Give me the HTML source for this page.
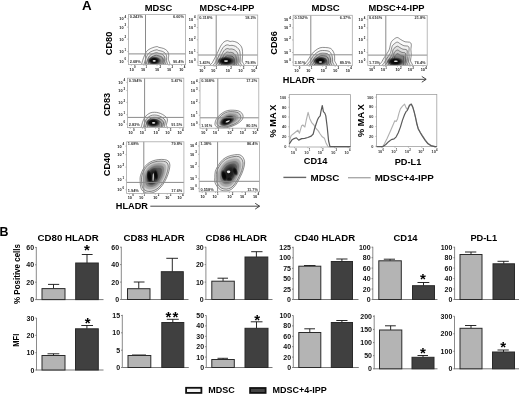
<!DOCTYPE html>
<html><head><meta charset="utf-8"><title>Figure</title>
<style>html,body{margin:0;padding:0;background:#fff;width:520px;height:395px;overflow:hidden}svg{display:block;filter:blur(0.3px)}</style>
</head><body>
<svg width="520" height="395" viewBox="0 0 520 395" font-family="'Liberation Sans', Arial, Helvetica, sans-serif">
<defs><clipPath id="c1"><rect x="128.5" y="14.6" width="57.099999999999994" height="49.99999999999999"/></clipPath><radialGradient id="g1"><stop offset="0" stop-color="#000" stop-opacity="0.35"/><stop offset="0.6" stop-color="#000" stop-opacity="0.210"/><stop offset="1" stop-color="#000" stop-opacity="0"/></radialGradient><radialGradient id="g2"><stop offset="0" stop-color="#000" stop-opacity="1"/><stop offset="0.5" stop-color="#0a0a0a" stop-opacity="0.95"/><stop offset="0.78" stop-color="#222" stop-opacity="0.55"/><stop offset="1" stop-color="#444" stop-opacity="0"/></radialGradient><clipPath id="c2"><rect x="198.0" y="15.0" width="59.69999999999999" height="50.599999999999994"/></clipPath><radialGradient id="g3"><stop offset="0" stop-color="#000" stop-opacity="0.35"/><stop offset="0.6" stop-color="#000" stop-opacity="0.210"/><stop offset="1" stop-color="#000" stop-opacity="0"/></radialGradient><radialGradient id="g4"><stop offset="0" stop-color="#000" stop-opacity="1"/><stop offset="0.5" stop-color="#0a0a0a" stop-opacity="0.95"/><stop offset="0.78" stop-color="#222" stop-opacity="0.55"/><stop offset="1" stop-color="#444" stop-opacity="0"/></radialGradient><clipPath id="c3"><rect x="127.5" y="78.2" width="56.30000000000001" height="49.39999999999999"/></clipPath><radialGradient id="g5"><stop offset="0" stop-color="#000" stop-opacity="0.35"/><stop offset="0.6" stop-color="#000" stop-opacity="0.210"/><stop offset="1" stop-color="#000" stop-opacity="0"/></radialGradient><radialGradient id="g6"><stop offset="0" stop-color="#000" stop-opacity="1"/><stop offset="0.5" stop-color="#0a0a0a" stop-opacity="0.95"/><stop offset="0.78" stop-color="#222" stop-opacity="0.55"/><stop offset="1" stop-color="#444" stop-opacity="0"/></radialGradient><clipPath id="c4"><rect x="200.0" y="78.3" width="58.80000000000001" height="49.89999999999999"/></clipPath><radialGradient id="g7"><stop offset="0" stop-color="#000" stop-opacity="0.3"/><stop offset="0.6" stop-color="#000" stop-opacity="0.180"/><stop offset="1" stop-color="#000" stop-opacity="0"/></radialGradient><radialGradient id="g8"><stop offset="0" stop-color="#000" stop-opacity="1"/><stop offset="0.5" stop-color="#0a0a0a" stop-opacity="0.95"/><stop offset="0.78" stop-color="#222" stop-opacity="0.55"/><stop offset="1" stop-color="#444" stop-opacity="0"/></radialGradient><clipPath id="c5"><rect x="126.6" y="141.8" width="57.30000000000001" height="51.599999999999994"/></clipPath><radialGradient id="g9"><stop offset="0" stop-color="#000" stop-opacity="0.3"/><stop offset="0.6" stop-color="#000" stop-opacity="0.180"/><stop offset="1" stop-color="#000" stop-opacity="0"/></radialGradient><radialGradient id="g10"><stop offset="0" stop-color="#000" stop-opacity="1"/><stop offset="0.5" stop-color="#0a0a0a" stop-opacity="0.95"/><stop offset="0.78" stop-color="#222" stop-opacity="0.55"/><stop offset="1" stop-color="#444" stop-opacity="0"/></radialGradient><radialGradient id="g11"><stop offset="0" stop-color="#000" stop-opacity="0.95"/><stop offset="0.55" stop-color="#000" stop-opacity="0.807"/><stop offset="1" stop-color="#000" stop-opacity="0"/></radialGradient><radialGradient id="g12"><stop offset="0" stop-color="#000" stop-opacity="0.85"/><stop offset="0.55" stop-color="#000" stop-opacity="0.722"/><stop offset="1" stop-color="#000" stop-opacity="0"/></radialGradient><clipPath id="c6"><rect x="199.2" y="141.8" width="60.400000000000034" height="50.0"/></clipPath><radialGradient id="g13"><stop offset="0" stop-color="#000" stop-opacity="0.3"/><stop offset="0.6" stop-color="#000" stop-opacity="0.180"/><stop offset="1" stop-color="#000" stop-opacity="0"/></radialGradient><radialGradient id="g14"><stop offset="0" stop-color="#000" stop-opacity="1"/><stop offset="0.5" stop-color="#0a0a0a" stop-opacity="0.95"/><stop offset="0.78" stop-color="#222" stop-opacity="0.55"/><stop offset="1" stop-color="#444" stop-opacity="0"/></radialGradient><radialGradient id="g15"><stop offset="0" stop-color="#000" stop-opacity="0.95"/><stop offset="0.55" stop-color="#000" stop-opacity="0.807"/><stop offset="1" stop-color="#000" stop-opacity="0"/></radialGradient><radialGradient id="g16"><stop offset="0" stop-color="#000" stop-opacity="0.85"/><stop offset="0.55" stop-color="#000" stop-opacity="0.722"/><stop offset="1" stop-color="#000" stop-opacity="0"/></radialGradient><radialGradient id="g17"><stop offset="0" stop-color="#000" stop-opacity="0.6"/><stop offset="0.55" stop-color="#000" stop-opacity="0.510"/><stop offset="1" stop-color="#000" stop-opacity="0"/></radialGradient><clipPath id="c7"><rect x="293.2" y="15.3" width="59.10000000000002" height="50.3"/></clipPath><radialGradient id="g18"><stop offset="0" stop-color="#000" stop-opacity="0.35"/><stop offset="0.6" stop-color="#000" stop-opacity="0.210"/><stop offset="1" stop-color="#000" stop-opacity="0"/></radialGradient><radialGradient id="g19"><stop offset="0" stop-color="#000" stop-opacity="1"/><stop offset="0.5" stop-color="#0a0a0a" stop-opacity="0.95"/><stop offset="0.78" stop-color="#222" stop-opacity="0.55"/><stop offset="1" stop-color="#444" stop-opacity="0"/></radialGradient><clipPath id="c8"><rect x="367.8" y="15.4" width="59.39999999999998" height="50.1"/></clipPath><radialGradient id="g20"><stop offset="0" stop-color="#000" stop-opacity="0.35"/><stop offset="0.6" stop-color="#000" stop-opacity="0.210"/><stop offset="1" stop-color="#000" stop-opacity="0"/></radialGradient><radialGradient id="g21"><stop offset="0" stop-color="#000" stop-opacity="1"/><stop offset="0.5" stop-color="#0a0a0a" stop-opacity="0.95"/><stop offset="0.78" stop-color="#222" stop-opacity="0.55"/><stop offset="1" stop-color="#444" stop-opacity="0"/></radialGradient></defs>
<rect width="520" height="395" fill="#fff"/>
<text x="82.00" y="10.20" font-size="13.4" font-weight="bold" text-anchor="start" fill="#000">A</text>
<text x="158.50" y="11.20" font-size="9.9" font-weight="bold" text-anchor="middle" fill="#000" textLength="27.6" lengthAdjust="spacingAndGlyphs">MDSC</text>
<text x="227.00" y="11.20" font-size="9.8" font-weight="bold" text-anchor="middle" fill="#000" textLength="54.8" lengthAdjust="spacingAndGlyphs">MDSC+4-IPP</text>
<text x="325.60" y="11.20" font-size="9.9" font-weight="bold" text-anchor="middle" fill="#000" textLength="28.2" lengthAdjust="spacingAndGlyphs">MDSC</text>
<text x="396.50" y="11.20" font-size="9.8" font-weight="bold" text-anchor="middle" fill="#000" textLength="56.2" lengthAdjust="spacingAndGlyphs">MDSC+4-IPP</text>
<text x="112.20" y="43.40" font-size="9.2" font-weight="bold" text-anchor="middle" fill="#000" transform="rotate(-90 112.2 43.4)">CD80</text>
<text x="110.30" y="104.60" font-size="9.2" font-weight="bold" text-anchor="middle" fill="#000" transform="rotate(-90 110.3 104.6)">CD83</text>
<text x="110.30" y="164.50" font-size="9.2" font-weight="bold" text-anchor="middle" fill="#000" transform="rotate(-90 110.3 164.5)">CD40</text>
<text x="276.90" y="42.90" font-size="9.2" font-weight="bold" text-anchor="middle" fill="#000" transform="rotate(-90 276.9 42.9)">CD86</text>
<text x="123.50" y="20.20" font-size="3.8" font-weight="bold" text-anchor="end" fill="#111">10</text>
<text x="124.50" y="17.90" font-size="2.9" font-weight="bold" text-anchor="start" fill="#111">4</text>
<text x="123.50" y="28.50" font-size="3.8" font-weight="bold" text-anchor="end" fill="#111">10</text>
<text x="124.50" y="26.20" font-size="2.9" font-weight="bold" text-anchor="start" fill="#111">3</text>
<text x="123.50" y="40.50" font-size="3.8" font-weight="bold" text-anchor="end" fill="#111">10</text>
<text x="124.50" y="38.20" font-size="2.9" font-weight="bold" text-anchor="start" fill="#111">2</text>
<text x="123.50" y="53.00" font-size="3.8" font-weight="bold" text-anchor="end" fill="#111">10</text>
<text x="124.50" y="50.70" font-size="2.9" font-weight="bold" text-anchor="start" fill="#111">1</text>
<text x="123.50" y="62.50" font-size="3.8" font-weight="bold" text-anchor="end" fill="#111">10</text>
<text x="124.50" y="60.20" font-size="2.9" font-weight="bold" text-anchor="start" fill="#111">0</text>
<text x="131.64" y="70.50" font-size="3.8" font-weight="bold" text-anchor="middle" fill="#111">10</text>
<text x="134.04" y="67.60" font-size="2.9" font-weight="bold" text-anchor="start" fill="#111">0</text>
<text x="143.06" y="70.50" font-size="3.8" font-weight="bold" text-anchor="middle" fill="#111">10</text>
<text x="145.46" y="67.60" font-size="2.9" font-weight="bold" text-anchor="start" fill="#111">1</text>
<text x="157.05" y="70.50" font-size="3.8" font-weight="bold" text-anchor="middle" fill="#111">10</text>
<text x="159.45" y="67.60" font-size="2.9" font-weight="bold" text-anchor="start" fill="#111">2</text>
<text x="169.04" y="70.50" font-size="3.8" font-weight="bold" text-anchor="middle" fill="#111">10</text>
<text x="171.44" y="67.60" font-size="2.9" font-weight="bold" text-anchor="start" fill="#111">3</text>
<text x="181.32" y="70.50" font-size="3.8" font-weight="bold" text-anchor="middle" fill="#111">10</text>
<text x="183.72" y="67.60" font-size="2.9" font-weight="bold" text-anchor="start" fill="#111">4</text>
<line x1="131.35" y1="64.60" x2="131.35" y2="65.80" stroke="#777" stroke-width="0.5"/>
<line x1="143.92" y1="64.60" x2="143.92" y2="65.80" stroke="#777" stroke-width="0.5"/>
<line x1="157.05" y1="64.60" x2="157.05" y2="65.80" stroke="#777" stroke-width="0.5"/>
<line x1="169.04" y1="64.60" x2="169.04" y2="65.80" stroke="#777" stroke-width="0.5"/>
<line x1="181.60" y1="64.60" x2="181.60" y2="65.80" stroke="#777" stroke-width="0.5"/>
<line x1="127.30" y1="18.80" x2="128.50" y2="18.80" stroke="#777" stroke-width="0.5"/>
<line x1="127.30" y1="27.10" x2="128.50" y2="27.10" stroke="#777" stroke-width="0.5"/>
<line x1="127.30" y1="39.10" x2="128.50" y2="39.10" stroke="#777" stroke-width="0.5"/>
<line x1="127.30" y1="51.60" x2="128.50" y2="51.60" stroke="#777" stroke-width="0.5"/>
<line x1="127.30" y1="61.10" x2="128.50" y2="61.10" stroke="#777" stroke-width="0.5"/>
<g clip-path="url(#c1)">
<path d="M141.00,67.00 C136.67,66.42 141.35,65.10 141.80,63.50 C142.25,61.90 142.87,59.45 143.70,57.40 C144.53,55.35 145.52,52.73 146.80,51.20 C148.08,49.67 149.73,48.97 151.40,48.20 C153.07,47.43 155.53,46.73 156.80,46.60 C158.07,46.47 157.85,47.08 159.00,47.40 C160.15,47.72 162.28,47.87 163.70,48.50 C165.12,49.13 166.67,50.12 167.50,51.20 C168.33,52.28 168.57,53.72 168.70,55.00 C168.83,56.28 168.45,56.90 168.30,58.90 C168.15,60.90 172.35,65.65 167.80,67.00 C163.25,68.35 145.33,67.58 141.00,67.00Z" fill="#000" fill-opacity="0.02" stroke="#333" stroke-width="0.55"/>
<path d="M143.40,66.92 C139.76,66.43 143.69,65.32 144.07,63.98 C144.45,62.64 144.97,60.58 145.67,58.86 C146.37,57.13 147.19,54.94 148.27,53.65 C149.35,52.36 150.74,51.77 152.14,51.13 C153.54,50.48 155.61,49.90 156.67,49.78 C157.74,49.67 157.55,50.19 158.52,50.46 C159.49,50.72 161.28,50.85 162.47,51.38 C163.66,51.91 164.96,52.74 165.66,53.65 C166.36,54.56 166.56,55.76 166.67,56.84 C166.78,57.92 166.46,58.44 166.33,60.12 C166.21,61.80 169.73,65.79 165.91,66.92 C162.09,68.05 147.04,67.41 143.40,66.92Z" fill="#000" fill-opacity="0.04" stroke="#333" stroke-width="0.55"/>
<path d="M145.50,66.85 C142.47,66.44 145.75,65.52 146.06,64.40 C146.38,63.28 146.81,61.56 147.39,60.13 C147.97,58.69 148.66,56.86 149.56,55.79 C150.46,54.72 151.61,54.23 152.78,53.69 C153.95,53.15 155.67,52.66 156.56,52.57 C157.45,52.48 157.29,52.91 158.10,53.13 C158.91,53.35 160.40,53.46 161.39,53.90 C162.38,54.34 163.47,55.03 164.05,55.79 C164.63,56.55 164.80,57.55 164.89,58.45 C164.98,59.35 164.72,59.78 164.61,61.18 C164.51,62.58 167.45,65.91 164.26,66.85 C161.08,67.79 148.53,67.26 145.50,66.85Z" fill="#000" fill-opacity="0.07" stroke="#333" stroke-width="0.55"/>
<path d="M147.45,66.78 C144.98,66.45 147.65,65.70 147.91,64.79 C148.16,63.88 148.51,62.48 148.99,61.31 C149.46,60.14 150.02,58.65 150.76,57.78 C151.49,56.91 152.43,56.51 153.38,56.07 C154.33,55.63 155.73,55.23 156.46,55.16 C157.18,55.08 157.05,55.43 157.71,55.61 C158.37,55.79 159.58,55.88 160.39,56.24 C161.20,56.60 162.08,57.16 162.56,57.78 C163.03,58.40 163.16,59.21 163.24,59.95 C163.31,60.68 163.10,61.03 163.01,62.17 C162.93,63.31 165.32,66.02 162.73,66.78 C160.13,67.55 149.92,67.12 147.45,66.78Z" fill="#000" fill-opacity="0.11" stroke="#333" stroke-width="0.55"/>
<path d="M149.40,66.72 C147.49,66.46 149.55,65.88 149.75,65.18 C149.95,64.48 150.22,63.40 150.59,62.50 C150.95,61.59 151.39,60.44 151.95,59.77 C152.52,59.09 153.24,58.79 153.98,58.45 C154.71,58.11 155.79,57.80 156.35,57.74 C156.91,57.69 156.81,57.96 157.32,58.10 C157.83,58.24 158.76,58.30 159.39,58.58 C160.01,58.86 160.69,59.29 161.06,59.77 C161.43,60.24 161.53,60.88 161.59,61.44 C161.65,62.00 161.48,62.28 161.41,63.16 C161.35,64.04 163.19,66.13 161.19,66.72 C159.19,67.31 151.31,66.98 149.40,66.72Z" fill="#000" fill-opacity="0.16" stroke="none"/>
<ellipse cx="156.5" cy="61" rx="12" ry="7" fill="url(#g1)" transform="rotate(0 156.5 61)"/>
<ellipse cx="154" cy="60.6" rx="7.0" ry="4.4" fill="url(#g2)" opacity="1" transform="rotate(0 154 60.6)"/>
<ellipse cx="154.2" cy="60.9" rx="1.6" ry="0.8" fill="#fff" fill-opacity="0.9" transform="rotate(0 154.2 60.9)"/>
</g>
<line x1="145.50" y1="14.60" x2="145.50" y2="64.60" stroke="#8a8a8a" stroke-width="1.0"/>
<line x1="128.50" y1="53.90" x2="185.60" y2="53.90" stroke="#8a8a8a" stroke-width="1.0"/>
<rect x="128.50" y="14.60" width="57.10" height="50.00" fill="none" stroke="#a8a8a8" stroke-width="0.8"/>
<text x="129.70" y="18.20" font-size="3.9" font-weight="bold" text-anchor="start" fill="#333">0.243%</text>
<text x="184.00" y="18.20" font-size="3.9" font-weight="bold" text-anchor="end" fill="#333">6.60%</text>
<text x="129.70" y="63.30" font-size="3.9" font-weight="bold" text-anchor="start" fill="#333">2.68%</text>
<text x="184.00" y="63.30" font-size="3.9" font-weight="bold" text-anchor="end" fill="#333">90.4%</text>
<text x="193.00" y="20.65" font-size="3.8" font-weight="bold" text-anchor="end" fill="#111">10</text>
<text x="194.00" y="18.35" font-size="2.9" font-weight="bold" text-anchor="start" fill="#111">4</text>
<text x="193.00" y="29.05" font-size="3.8" font-weight="bold" text-anchor="end" fill="#111">10</text>
<text x="194.00" y="26.75" font-size="2.9" font-weight="bold" text-anchor="start" fill="#111">3</text>
<text x="193.00" y="41.19" font-size="3.8" font-weight="bold" text-anchor="end" fill="#111">10</text>
<text x="194.00" y="38.89" font-size="2.9" font-weight="bold" text-anchor="start" fill="#111">2</text>
<text x="193.00" y="53.84" font-size="3.8" font-weight="bold" text-anchor="end" fill="#111">10</text>
<text x="194.00" y="51.54" font-size="2.9" font-weight="bold" text-anchor="start" fill="#111">1</text>
<text x="193.00" y="63.46" font-size="3.8" font-weight="bold" text-anchor="end" fill="#111">10</text>
<text x="194.00" y="61.16" font-size="2.9" font-weight="bold" text-anchor="start" fill="#111">0</text>
<text x="201.28" y="71.50" font-size="3.8" font-weight="bold" text-anchor="middle" fill="#111">10</text>
<text x="203.68" y="68.60" font-size="2.9" font-weight="bold" text-anchor="start" fill="#111">0</text>
<text x="213.22" y="71.50" font-size="3.8" font-weight="bold" text-anchor="middle" fill="#111">10</text>
<text x="215.62" y="68.60" font-size="2.9" font-weight="bold" text-anchor="start" fill="#111">1</text>
<text x="227.85" y="71.50" font-size="3.8" font-weight="bold" text-anchor="middle" fill="#111">10</text>
<text x="230.25" y="68.60" font-size="2.9" font-weight="bold" text-anchor="start" fill="#111">2</text>
<text x="240.39" y="71.50" font-size="3.8" font-weight="bold" text-anchor="middle" fill="#111">10</text>
<text x="242.79" y="68.60" font-size="2.9" font-weight="bold" text-anchor="start" fill="#111">3</text>
<text x="253.22" y="71.50" font-size="3.8" font-weight="bold" text-anchor="middle" fill="#111">10</text>
<text x="255.62" y="68.60" font-size="2.9" font-weight="bold" text-anchor="start" fill="#111">4</text>
<line x1="200.99" y1="65.60" x2="200.99" y2="66.80" stroke="#777" stroke-width="0.5"/>
<line x1="214.12" y1="65.60" x2="214.12" y2="66.80" stroke="#777" stroke-width="0.5"/>
<line x1="227.85" y1="65.60" x2="227.85" y2="66.80" stroke="#777" stroke-width="0.5"/>
<line x1="240.39" y1="65.60" x2="240.39" y2="66.80" stroke="#777" stroke-width="0.5"/>
<line x1="253.52" y1="65.60" x2="253.52" y2="66.80" stroke="#777" stroke-width="0.5"/>
<line x1="196.80" y1="19.25" x2="198.00" y2="19.25" stroke="#777" stroke-width="0.5"/>
<line x1="196.80" y1="27.65" x2="198.00" y2="27.65" stroke="#777" stroke-width="0.5"/>
<line x1="196.80" y1="39.79" x2="198.00" y2="39.79" stroke="#777" stroke-width="0.5"/>
<line x1="196.80" y1="52.44" x2="198.00" y2="52.44" stroke="#777" stroke-width="0.5"/>
<line x1="196.80" y1="62.06" x2="198.00" y2="62.06" stroke="#777" stroke-width="0.5"/>
<g clip-path="url(#c2)">
<path d="M211.50,67.00 C206.58,66.25 212.13,63.65 212.50,62.50 C212.87,61.35 212.93,61.58 213.70,60.10 C214.47,58.62 215.95,55.92 217.10,53.60 C218.25,51.28 219.45,48.15 220.60,46.20 C221.75,44.25 222.85,42.83 224.00,41.90 C225.15,40.97 226.48,40.67 227.50,40.60 C228.52,40.53 229.23,41.40 230.10,41.50 C230.97,41.60 231.55,41.05 232.70,41.20 C233.85,41.35 235.70,41.70 237.00,42.40 C238.30,43.10 239.63,44.33 240.50,45.40 C241.37,46.47 241.85,47.22 242.20,48.80 C242.55,50.38 242.60,52.87 242.60,54.90 C242.60,56.93 242.30,58.98 242.20,61.00 C242.10,63.02 247.12,66.00 242.00,67.00 C236.88,68.00 216.42,67.75 211.50,67.00Z" fill="#000" fill-opacity="0.02" stroke="#333" stroke-width="0.55"/>
<path d="M214.14,67.00 C210.01,66.37 214.67,64.19 214.98,63.22 C215.29,62.25 215.34,62.45 215.99,61.20 C216.63,59.96 217.88,57.69 218.84,55.74 C219.81,53.80 220.82,51.17 221.78,49.53 C222.75,47.89 223.67,46.70 224.64,45.92 C225.61,45.13 226.73,44.88 227.58,44.82 C228.43,44.77 229.04,45.50 229.76,45.58 C230.49,45.66 230.98,45.20 231.95,45.33 C232.91,45.45 234.47,45.75 235.56,46.34 C236.65,46.92 237.77,47.96 238.50,48.86 C239.23,49.75 239.63,50.38 239.93,51.71 C240.22,53.04 240.26,55.13 240.26,56.84 C240.26,58.54 240.01,60.27 239.93,61.96 C239.84,63.65 244.06,66.16 239.76,67.00 C235.46,67.84 218.27,67.63 214.14,67.00Z" fill="#000" fill-opacity="0.04" stroke="#333" stroke-width="0.55"/>
<path d="M216.45,67.00 C213.01,66.47 216.89,64.66 217.15,63.85 C217.41,63.05 217.45,63.21 217.99,62.17 C218.53,61.13 219.56,59.24 220.37,57.62 C221.18,56.00 222.01,53.81 222.82,52.44 C223.62,51.08 224.39,50.08 225.20,49.43 C226.00,48.78 226.94,48.57 227.65,48.52 C228.36,48.47 228.86,49.08 229.47,49.15 C230.08,49.22 230.48,48.84 231.29,48.94 C232.09,49.05 233.39,49.29 234.30,49.78 C235.21,50.27 236.14,51.13 236.75,51.88 C237.36,52.63 237.69,53.15 237.94,54.26 C238.19,55.37 238.22,57.11 238.22,58.53 C238.22,59.95 238.01,61.39 237.94,62.80 C237.87,64.21 241.38,66.30 237.80,67.00 C234.22,67.70 219.89,67.53 216.45,67.00Z" fill="#000" fill-opacity="0.07" stroke="#333" stroke-width="0.55"/>
<path d="M218.59,67.00 C215.79,66.57 218.96,65.09 219.16,64.44 C219.37,63.78 219.41,63.91 219.85,63.07 C220.29,62.22 221.13,60.68 221.79,59.36 C222.44,58.04 223.13,56.26 223.78,55.14 C224.44,54.03 225.06,53.23 225.72,52.69 C226.38,52.16 227.14,51.99 227.72,51.95 C228.29,51.91 228.70,52.41 229.20,52.47 C229.69,52.52 230.02,52.21 230.68,52.29 C231.33,52.38 232.39,52.58 233.13,52.98 C233.87,53.38 234.63,54.08 235.12,54.69 C235.62,55.30 235.89,55.72 236.09,56.63 C236.29,57.53 236.32,58.94 236.32,60.10 C236.32,61.26 236.15,62.43 236.09,63.58 C236.04,64.73 238.90,66.43 235.98,67.00 C233.06,67.57 221.40,67.43 218.59,67.00Z" fill="#000" fill-opacity="0.11" stroke="#333" stroke-width="0.55"/>
<path d="M220.74,67.00 C218.58,66.67 221.02,65.53 221.18,65.02 C221.34,64.51 221.37,64.62 221.71,63.96 C222.05,63.31 222.70,62.12 223.20,61.10 C223.71,60.08 224.24,58.71 224.74,57.85 C225.25,56.99 225.73,56.37 226.24,55.96 C226.75,55.55 227.33,55.41 227.78,55.38 C228.23,55.35 228.54,55.74 228.92,55.78 C229.31,55.82 229.56,55.58 230.07,55.65 C230.57,55.71 231.39,55.87 231.96,56.18 C232.53,56.48 233.12,57.03 233.50,57.50 C233.88,57.97 234.09,58.30 234.25,58.99 C234.40,59.69 234.42,60.78 234.42,61.68 C234.42,62.57 234.29,63.47 234.25,64.36 C234.20,65.25 236.41,66.56 234.16,67.00 C231.91,67.44 222.90,67.33 220.74,67.00Z" fill="#000" fill-opacity="0.16" stroke="#333" stroke-width="0.55"/>
<ellipse cx="228.5" cy="60.5" rx="15" ry="8" fill="url(#g3)" transform="rotate(0 228.5 60.5)"/>
<ellipse cx="225.8" cy="61.0" rx="9.5" ry="4.6" fill="url(#g4)" opacity="1" transform="rotate(0 225.8 61.0)"/>
<ellipse cx="226.0" cy="61.1" rx="2.2" ry="0.8" fill="#fff" fill-opacity="0.9" transform="rotate(0 226.0 61.1)"/>
</g>
<line x1="216.20" y1="15.00" x2="216.20" y2="65.60" stroke="#8a8a8a" stroke-width="1.0"/>
<line x1="198.00" y1="55.00" x2="257.70" y2="55.00" stroke="#8a8a8a" stroke-width="1.0"/>
<rect x="198.00" y="15.00" width="59.70" height="50.60" fill="none" stroke="#a8a8a8" stroke-width="0.8"/>
<text x="199.20" y="18.60" font-size="3.9" font-weight="bold" text-anchor="start" fill="#333">0.318%</text>
<text x="256.10" y="18.60" font-size="3.9" font-weight="bold" text-anchor="end" fill="#333">18.2%</text>
<text x="199.20" y="64.30" font-size="3.9" font-weight="bold" text-anchor="start" fill="#333">1.43%</text>
<text x="256.10" y="64.30" font-size="3.9" font-weight="bold" text-anchor="end" fill="#333">79.8%</text>
<text x="122.50" y="83.75" font-size="3.8" font-weight="bold" text-anchor="end" fill="#111">10</text>
<text x="123.50" y="81.45" font-size="2.9" font-weight="bold" text-anchor="start" fill="#111">4</text>
<text x="122.50" y="91.95" font-size="3.8" font-weight="bold" text-anchor="end" fill="#111">10</text>
<text x="123.50" y="89.65" font-size="2.9" font-weight="bold" text-anchor="start" fill="#111">3</text>
<text x="122.50" y="103.81" font-size="3.8" font-weight="bold" text-anchor="end" fill="#111">10</text>
<text x="123.50" y="101.51" font-size="2.9" font-weight="bold" text-anchor="start" fill="#111">2</text>
<text x="122.50" y="116.16" font-size="3.8" font-weight="bold" text-anchor="end" fill="#111">10</text>
<text x="123.50" y="113.86" font-size="2.9" font-weight="bold" text-anchor="start" fill="#111">1</text>
<text x="122.50" y="125.54" font-size="3.8" font-weight="bold" text-anchor="end" fill="#111">10</text>
<text x="123.50" y="123.24" font-size="2.9" font-weight="bold" text-anchor="start" fill="#111">0</text>
<text x="130.60" y="133.50" font-size="3.8" font-weight="bold" text-anchor="middle" fill="#111">10</text>
<text x="133.00" y="130.60" font-size="2.9" font-weight="bold" text-anchor="start" fill="#111">0</text>
<text x="141.86" y="133.50" font-size="3.8" font-weight="bold" text-anchor="middle" fill="#111">10</text>
<text x="144.26" y="130.60" font-size="2.9" font-weight="bold" text-anchor="start" fill="#111">1</text>
<text x="155.65" y="133.50" font-size="3.8" font-weight="bold" text-anchor="middle" fill="#111">10</text>
<text x="158.05" y="130.60" font-size="2.9" font-weight="bold" text-anchor="start" fill="#111">2</text>
<text x="167.47" y="133.50" font-size="3.8" font-weight="bold" text-anchor="middle" fill="#111">10</text>
<text x="169.87" y="130.60" font-size="2.9" font-weight="bold" text-anchor="start" fill="#111">3</text>
<text x="179.58" y="133.50" font-size="3.8" font-weight="bold" text-anchor="middle" fill="#111">10</text>
<text x="181.98" y="130.60" font-size="2.9" font-weight="bold" text-anchor="start" fill="#111">4</text>
<line x1="130.31" y1="127.60" x2="130.31" y2="128.80" stroke="#777" stroke-width="0.5"/>
<line x1="142.70" y1="127.60" x2="142.70" y2="128.80" stroke="#777" stroke-width="0.5"/>
<line x1="155.65" y1="127.60" x2="155.65" y2="128.80" stroke="#777" stroke-width="0.5"/>
<line x1="167.47" y1="127.60" x2="167.47" y2="128.80" stroke="#777" stroke-width="0.5"/>
<line x1="179.86" y1="127.60" x2="179.86" y2="128.80" stroke="#777" stroke-width="0.5"/>
<line x1="126.30" y1="82.35" x2="127.50" y2="82.35" stroke="#777" stroke-width="0.5"/>
<line x1="126.30" y1="90.55" x2="127.50" y2="90.55" stroke="#777" stroke-width="0.5"/>
<line x1="126.30" y1="102.41" x2="127.50" y2="102.41" stroke="#777" stroke-width="0.5"/>
<line x1="126.30" y1="114.76" x2="127.50" y2="114.76" stroke="#777" stroke-width="0.5"/>
<line x1="126.30" y1="124.14" x2="127.50" y2="124.14" stroke="#777" stroke-width="0.5"/>
<g clip-path="url(#c3)">
<path d="M140.80,129.00 C136.71,128.65 140.88,128.23 141.25,126.90 C141.62,125.57 142.28,122.78 143.00,121.00 C143.72,119.22 144.43,117.58 145.60,116.25 C146.77,114.92 148.53,113.67 150.00,113.00 C151.47,112.33 152.98,112.28 154.40,112.25 C155.82,112.22 157.15,112.44 158.50,112.80 C159.85,113.16 161.25,113.70 162.50,114.40 C163.75,115.10 165.17,116.07 166.00,117.00 C166.83,117.93 167.46,118.67 167.50,120.00 C167.54,121.33 166.53,123.50 166.25,125.00 C165.97,126.50 170.04,128.33 165.80,129.00 C161.56,129.67 144.89,129.35 140.80,129.00Z" fill="#000" fill-opacity="0.02" stroke="#333" stroke-width="0.55"/>
<path d="M142.99,129.08 C139.56,128.79 143.06,128.44 143.37,127.32 C143.68,126.20 144.23,123.85 144.84,122.36 C145.45,120.87 146.04,119.49 147.02,118.37 C148.00,117.25 149.49,116.20 150.72,115.64 C151.95,115.08 153.23,115.04 154.42,115.01 C155.61,114.98 156.73,115.17 157.86,115.47 C158.99,115.77 160.17,116.23 161.22,116.82 C162.27,117.40 163.46,118.22 164.16,119.00 C164.86,119.78 165.38,120.40 165.42,121.52 C165.45,122.64 164.61,124.46 164.37,125.72 C164.13,126.98 167.56,128.52 163.99,129.08 C160.43,129.64 146.43,129.37 142.99,129.08Z" fill="#000" fill-opacity="0.04" stroke="#333" stroke-width="0.55"/>
<path d="M144.91,129.15 C142.05,128.91 144.97,128.61 145.22,127.68 C145.48,126.75 145.94,124.79 146.45,123.55 C146.96,122.31 147.45,121.16 148.27,120.22 C149.09,119.29 150.32,118.42 151.35,117.95 C152.38,117.48 153.44,117.45 154.43,117.42 C155.42,117.40 156.36,117.56 157.30,117.81 C158.25,118.06 159.22,118.44 160.10,118.93 C160.97,119.42 161.97,120.10 162.55,120.75 C163.13,121.40 163.57,121.92 163.60,122.85 C163.63,123.78 162.92,125.30 162.72,126.35 C162.53,127.40 165.38,128.68 162.41,129.15 C159.44,129.62 147.77,129.40 144.91,129.15Z" fill="#000" fill-opacity="0.07" stroke="#333" stroke-width="0.55"/>
<path d="M146.69,129.22 C144.36,129.02 146.74,128.78 146.95,128.02 C147.16,127.26 147.53,125.67 147.94,124.66 C148.36,123.64 148.76,122.71 149.43,121.95 C150.09,121.19 151.10,120.47 151.94,120.09 C152.77,119.72 153.64,119.69 154.44,119.67 C155.25,119.65 156.01,119.78 156.78,119.98 C157.55,120.19 158.35,120.49 159.06,120.89 C159.77,121.29 160.58,121.84 161.06,122.38 C161.53,122.91 161.89,123.33 161.91,124.09 C161.93,124.85 161.36,126.08 161.20,126.94 C161.04,127.79 163.36,128.84 160.94,129.22 C158.52,129.59 149.02,129.41 146.69,129.22Z" fill="#000" fill-opacity="0.11" stroke="#333" stroke-width="0.55"/>
<path d="M148.47,129.28 C146.67,129.13 148.51,128.94 148.67,128.36 C148.83,127.77 149.12,126.54 149.44,125.76 C149.76,124.98 150.07,124.26 150.58,123.67 C151.10,123.08 151.87,122.53 152.52,122.24 C153.17,121.95 153.83,121.92 154.46,121.91 C155.08,121.90 155.67,121.99 156.26,122.15 C156.85,122.31 157.47,122.55 158.02,122.86 C158.57,123.16 159.19,123.59 159.56,124.00 C159.93,124.41 160.20,124.73 160.22,125.32 C160.24,125.91 159.79,126.86 159.67,127.52 C159.55,128.18 161.34,128.99 159.47,129.28 C157.61,129.57 150.27,129.43 148.47,129.28Z" fill="#000" fill-opacity="0.16" stroke="none"/>
<ellipse cx="155" cy="122.5" rx="12" ry="7" fill="url(#g5)" transform="rotate(0 155 122.5)"/>
<ellipse cx="153.1" cy="122.6" rx="7.8" ry="4.6" fill="url(#g6)" opacity="1" transform="rotate(0 153.1 122.6)"/>
<ellipse cx="153.6" cy="122.9" rx="1.7" ry="0.8" fill="#fff" fill-opacity="0.9" transform="rotate(0 153.6 122.9)"/>
</g>
<line x1="144.60" y1="78.20" x2="144.60" y2="127.60" stroke="#8a8a8a" stroke-width="1.0"/>
<line x1="127.50" y1="117.40" x2="183.80" y2="117.40" stroke="#8a8a8a" stroke-width="1.0"/>
<rect x="127.50" y="78.20" width="56.30" height="49.40" fill="none" stroke="#a8a8a8" stroke-width="0.8"/>
<text x="128.70" y="81.80" font-size="3.9" font-weight="bold" text-anchor="start" fill="#333">0.194%</text>
<text x="182.20" y="81.80" font-size="3.9" font-weight="bold" text-anchor="end" fill="#333">5.47%</text>
<text x="128.70" y="126.30" font-size="3.9" font-weight="bold" text-anchor="start" fill="#333">2.83%</text>
<text x="182.20" y="126.30" font-size="3.9" font-weight="bold" text-anchor="end" fill="#333">91.5%</text>
<text x="195.00" y="83.89" font-size="3.8" font-weight="bold" text-anchor="end" fill="#111">10</text>
<text x="196.00" y="81.59" font-size="2.9" font-weight="bold" text-anchor="start" fill="#111">4</text>
<text x="195.00" y="92.17" font-size="3.8" font-weight="bold" text-anchor="end" fill="#111">10</text>
<text x="196.00" y="89.87" font-size="2.9" font-weight="bold" text-anchor="start" fill="#111">3</text>
<text x="195.00" y="104.15" font-size="3.8" font-weight="bold" text-anchor="end" fill="#111">10</text>
<text x="196.00" y="101.85" font-size="2.9" font-weight="bold" text-anchor="start" fill="#111">2</text>
<text x="195.00" y="116.63" font-size="3.8" font-weight="bold" text-anchor="end" fill="#111">10</text>
<text x="196.00" y="114.33" font-size="2.9" font-weight="bold" text-anchor="start" fill="#111">1</text>
<text x="195.00" y="126.11" font-size="3.8" font-weight="bold" text-anchor="end" fill="#111">10</text>
<text x="196.00" y="123.81" font-size="2.9" font-weight="bold" text-anchor="start" fill="#111">0</text>
<text x="203.23" y="134.10" font-size="3.8" font-weight="bold" text-anchor="middle" fill="#111">10</text>
<text x="205.63" y="131.20" font-size="2.9" font-weight="bold" text-anchor="start" fill="#111">0</text>
<text x="214.99" y="134.10" font-size="3.8" font-weight="bold" text-anchor="middle" fill="#111">10</text>
<text x="217.39" y="131.20" font-size="2.9" font-weight="bold" text-anchor="start" fill="#111">1</text>
<text x="229.40" y="134.10" font-size="3.8" font-weight="bold" text-anchor="middle" fill="#111">10</text>
<text x="231.80" y="131.20" font-size="2.9" font-weight="bold" text-anchor="start" fill="#111">2</text>
<text x="241.75" y="134.10" font-size="3.8" font-weight="bold" text-anchor="middle" fill="#111">10</text>
<text x="244.15" y="131.20" font-size="2.9" font-weight="bold" text-anchor="start" fill="#111">3</text>
<text x="254.39" y="134.10" font-size="3.8" font-weight="bold" text-anchor="middle" fill="#111">10</text>
<text x="256.79" y="131.20" font-size="2.9" font-weight="bold" text-anchor="start" fill="#111">4</text>
<line x1="202.94" y1="128.20" x2="202.94" y2="129.40" stroke="#777" stroke-width="0.5"/>
<line x1="215.88" y1="128.20" x2="215.88" y2="129.40" stroke="#777" stroke-width="0.5"/>
<line x1="229.40" y1="128.20" x2="229.40" y2="129.40" stroke="#777" stroke-width="0.5"/>
<line x1="241.75" y1="128.20" x2="241.75" y2="129.40" stroke="#777" stroke-width="0.5"/>
<line x1="254.68" y1="128.20" x2="254.68" y2="129.40" stroke="#777" stroke-width="0.5"/>
<line x1="198.80" y1="82.49" x2="200.00" y2="82.49" stroke="#777" stroke-width="0.5"/>
<line x1="198.80" y1="90.77" x2="200.00" y2="90.77" stroke="#777" stroke-width="0.5"/>
<line x1="198.80" y1="102.75" x2="200.00" y2="102.75" stroke="#777" stroke-width="0.5"/>
<line x1="198.80" y1="115.23" x2="200.00" y2="115.23" stroke="#777" stroke-width="0.5"/>
<line x1="198.80" y1="124.71" x2="200.00" y2="124.71" stroke="#777" stroke-width="0.5"/>
<g clip-path="url(#c4)">
<path d="M215.00,123.20 C215.13,122.18 215.50,120.68 216.20,119.40 C216.90,118.12 218.05,116.65 219.20,115.50 C220.35,114.35 221.68,113.33 223.10,112.50 C224.52,111.67 226.03,110.88 227.70,110.50 C229.37,110.12 231.30,110.13 233.10,110.20 C234.90,110.27 237.03,110.40 238.50,110.90 C239.97,111.40 241.13,112.30 241.90,113.20 C242.67,114.10 243.03,115.27 243.10,116.30 C243.17,117.33 242.95,118.37 242.30,119.40 C241.65,120.43 240.48,121.53 239.20,122.50 C237.92,123.47 236.27,124.43 234.60,125.20 C232.93,125.97 231.12,126.60 229.20,127.10 C227.28,127.60 225.02,128.13 223.10,128.20 C221.18,128.27 218.98,127.95 217.70,127.50 C216.42,127.05 215.85,126.22 215.40,125.50 C214.95,124.78 214.87,124.22 215.00,123.20Z" fill="#000" fill-opacity="0.05" stroke="#333" stroke-width="0.55"/>
<path d="M216.95,122.72 C217.06,121.86 217.38,120.58 217.97,119.49 C218.56,118.40 219.54,117.15 220.52,116.17 C221.50,115.20 222.63,114.33 223.84,113.62 C225.04,112.92 226.33,112.25 227.75,111.92 C229.16,111.60 230.81,111.61 232.34,111.67 C233.87,111.73 235.68,111.84 236.93,112.27 C238.17,112.69 239.16,113.45 239.81,114.22 C240.47,114.98 240.78,115.98 240.84,116.86 C240.89,117.73 240.71,118.61 240.16,119.49 C239.60,120.37 238.61,121.30 237.52,122.12 C236.43,122.95 235.03,123.77 233.61,124.42 C232.19,125.07 230.65,125.61 229.02,126.03 C227.39,126.46 225.46,126.91 223.84,126.97 C222.21,127.03 220.34,126.76 219.25,126.38 C218.15,125.99 217.67,125.28 217.29,124.67 C216.91,124.07 216.84,123.58 216.95,122.72Z" fill="#000" fill-opacity="0.08" stroke="#333" stroke-width="0.55"/>
<path d="M218.90,122.24 C218.99,121.53 219.25,120.48 219.74,119.58 C220.23,118.68 221.03,117.66 221.84,116.85 C222.65,116.04 223.58,115.33 224.57,114.75 C225.56,114.17 226.62,113.62 227.79,113.35 C228.96,113.08 230.31,113.09 231.57,113.14 C232.83,113.19 234.32,113.28 235.35,113.63 C236.38,113.98 237.19,114.61 237.73,115.24 C238.27,115.87 238.52,116.69 238.57,117.41 C238.62,118.13 238.47,118.86 238.01,119.58 C237.56,120.30 236.74,121.07 235.84,121.75 C234.94,122.43 233.79,123.10 232.62,123.64 C231.45,124.18 230.18,124.62 228.84,124.97 C227.50,125.32 225.91,125.69 224.57,125.74 C223.23,125.79 221.69,125.56 220.79,125.25 C219.89,124.94 219.50,124.35 219.18,123.85 C218.87,123.35 218.81,122.95 218.90,122.24Z" fill="#000" fill-opacity="0.12" stroke="none"/>
<path d="M220.85,121.76 C220.92,121.20 221.12,120.38 221.51,119.67 C221.89,118.96 222.53,118.16 223.16,117.53 C223.79,116.89 224.53,116.33 225.31,115.88 C226.08,115.42 226.92,114.99 227.83,114.78 C228.75,114.56 229.81,114.57 230.81,114.61 C231.80,114.65 232.97,114.72 233.78,115.00 C234.58,115.27 235.22,115.77 235.65,116.26 C236.07,116.76 236.27,117.40 236.31,117.97 C236.34,118.53 236.22,119.10 235.87,119.67 C235.51,120.24 234.87,120.84 234.16,121.38 C233.45,121.91 232.55,122.44 231.63,122.86 C230.71,123.28 229.71,123.63 228.66,123.91 C227.61,124.18 226.36,124.47 225.31,124.51 C224.25,124.55 223.04,124.37 222.33,124.12 C221.63,123.88 221.32,123.42 221.07,123.03 C220.82,122.63 220.78,122.32 220.85,121.76Z" fill="#000" fill-opacity="0.15" stroke="none"/>
<path d="M222.80,121.28 C222.85,120.87 223.00,120.27 223.28,119.76 C223.56,119.25 224.02,118.66 224.48,118.20 C224.94,117.74 225.47,117.33 226.04,117.00 C226.61,116.67 227.21,116.35 227.88,116.20 C228.55,116.05 229.32,116.05 230.04,116.08 C230.76,116.11 231.61,116.16 232.20,116.36 C232.79,116.56 233.25,116.92 233.56,117.28 C233.87,117.64 234.01,118.11 234.04,118.52 C234.07,118.93 233.98,119.35 233.72,119.76 C233.46,120.17 232.99,120.61 232.48,121.00 C231.97,121.39 231.31,121.77 230.64,122.08 C229.97,122.39 229.25,122.64 228.48,122.84 C227.71,123.04 226.81,123.25 226.04,123.28 C225.27,123.31 224.39,123.18 223.88,123.00 C223.37,122.82 223.14,122.49 222.96,122.20 C222.78,121.91 222.75,121.69 222.80,121.28Z" fill="#000" fill-opacity="0.2" stroke="none"/>
<ellipse cx="229" cy="119.5" rx="14" ry="8" fill="url(#g7)" transform="rotate(-25 229 119.5)"/>
<ellipse cx="226.9" cy="120.9" rx="8.5" ry="4.8" fill="url(#g8)" opacity="1" transform="rotate(-28 226.9 120.9)"/>
<ellipse cx="227.7" cy="121.4" rx="2.3" ry="0.8" fill="#fff" fill-opacity="0.9" transform="rotate(-22 227.7 121.4)"/>
</g>
<line x1="217.80" y1="78.30" x2="217.80" y2="128.20" stroke="#8a8a8a" stroke-width="1.0"/>
<line x1="200.00" y1="117.80" x2="258.80" y2="117.80" stroke="#8a8a8a" stroke-width="1.0"/>
<rect x="200.00" y="78.30" width="58.80" height="49.90" fill="none" stroke="#a8a8a8" stroke-width="0.8"/>
<text x="201.20" y="81.90" font-size="3.9" font-weight="bold" text-anchor="start" fill="#333">0.368%</text>
<text x="257.20" y="81.90" font-size="3.9" font-weight="bold" text-anchor="end" fill="#333">17.2%</text>
<text x="201.20" y="126.90" font-size="3.9" font-weight="bold" text-anchor="start" fill="#333">1.91%</text>
<text x="257.20" y="126.90" font-size="3.9" font-weight="bold" text-anchor="end" fill="#333">80.5%</text>
<text x="121.60" y="147.53" font-size="3.8" font-weight="bold" text-anchor="end" fill="#111">10</text>
<text x="122.60" y="145.23" font-size="2.9" font-weight="bold" text-anchor="start" fill="#111">4</text>
<text x="121.60" y="156.10" font-size="3.8" font-weight="bold" text-anchor="end" fill="#111">10</text>
<text x="122.60" y="153.80" font-size="2.9" font-weight="bold" text-anchor="start" fill="#111">3</text>
<text x="121.60" y="168.48" font-size="3.8" font-weight="bold" text-anchor="end" fill="#111">10</text>
<text x="122.60" y="166.18" font-size="2.9" font-weight="bold" text-anchor="start" fill="#111">2</text>
<text x="121.60" y="181.38" font-size="3.8" font-weight="bold" text-anchor="end" fill="#111">10</text>
<text x="122.60" y="179.08" font-size="2.9" font-weight="bold" text-anchor="start" fill="#111">1</text>
<text x="121.60" y="191.19" font-size="3.8" font-weight="bold" text-anchor="end" fill="#111">10</text>
<text x="122.60" y="188.89" font-size="2.9" font-weight="bold" text-anchor="start" fill="#111">0</text>
<text x="129.75" y="199.30" font-size="3.8" font-weight="bold" text-anchor="middle" fill="#111">10</text>
<text x="132.15" y="196.40" font-size="2.9" font-weight="bold" text-anchor="start" fill="#111">0</text>
<text x="141.21" y="199.30" font-size="3.8" font-weight="bold" text-anchor="middle" fill="#111">10</text>
<text x="143.61" y="196.40" font-size="2.9" font-weight="bold" text-anchor="start" fill="#111">1</text>
<text x="155.25" y="199.30" font-size="3.8" font-weight="bold" text-anchor="middle" fill="#111">10</text>
<text x="157.65" y="196.40" font-size="2.9" font-weight="bold" text-anchor="start" fill="#111">2</text>
<text x="167.28" y="199.30" font-size="3.8" font-weight="bold" text-anchor="middle" fill="#111">10</text>
<text x="169.68" y="196.40" font-size="2.9" font-weight="bold" text-anchor="start" fill="#111">3</text>
<text x="179.60" y="199.30" font-size="3.8" font-weight="bold" text-anchor="middle" fill="#111">10</text>
<text x="182.00" y="196.40" font-size="2.9" font-weight="bold" text-anchor="start" fill="#111">4</text>
<line x1="129.47" y1="193.40" x2="129.47" y2="194.60" stroke="#777" stroke-width="0.5"/>
<line x1="142.07" y1="193.40" x2="142.07" y2="194.60" stroke="#777" stroke-width="0.5"/>
<line x1="155.25" y1="193.40" x2="155.25" y2="194.60" stroke="#777" stroke-width="0.5"/>
<line x1="167.28" y1="193.40" x2="167.28" y2="194.60" stroke="#777" stroke-width="0.5"/>
<line x1="179.89" y1="193.40" x2="179.89" y2="194.60" stroke="#777" stroke-width="0.5"/>
<line x1="125.40" y1="146.13" x2="126.60" y2="146.13" stroke="#777" stroke-width="0.5"/>
<line x1="125.40" y1="154.70" x2="126.60" y2="154.70" stroke="#777" stroke-width="0.5"/>
<line x1="125.40" y1="167.08" x2="126.60" y2="167.08" stroke="#777" stroke-width="0.5"/>
<line x1="125.40" y1="179.98" x2="126.60" y2="179.98" stroke="#777" stroke-width="0.5"/>
<line x1="125.40" y1="189.79" x2="126.60" y2="189.79" stroke="#777" stroke-width="0.5"/>
<g clip-path="url(#c5)">
<path d="M140.10,180.30 C140.02,178.12 140.10,177.15 140.60,175.30 C141.10,173.45 142.00,171.07 143.10,169.20 C144.20,167.33 145.68,165.45 147.20,164.10 C148.72,162.75 150.35,161.85 152.20,161.10 C154.05,160.35 156.27,159.85 158.30,159.60 C160.33,159.35 162.72,159.35 164.40,159.60 C166.08,159.85 167.48,160.18 168.40,161.10 C169.32,162.02 169.82,163.42 169.90,165.10 C169.98,166.78 169.48,169.00 168.90,171.20 C168.32,173.40 167.50,175.93 166.40,178.30 C165.30,180.67 163.82,183.38 162.30,185.40 C160.78,187.42 159.15,189.13 157.30,190.40 C155.45,191.67 153.23,192.65 151.20,193.00 C149.17,193.35 146.78,193.27 145.10,192.50 C143.42,191.73 141.93,190.43 141.10,188.40 C140.27,186.37 140.18,182.48 140.10,180.30Z" fill="#000" fill-opacity="0.06" stroke="#333" stroke-width="0.55"/>
<path d="M141.49,179.87 C141.42,177.91 141.49,177.03 141.94,175.37 C142.39,173.71 143.20,171.56 144.19,169.88 C145.18,168.20 146.51,166.50 147.88,165.29 C149.25,164.07 150.72,163.26 152.38,162.59 C154.04,161.92 156.04,161.47 157.87,161.24 C159.70,161.02 161.85,161.02 163.36,161.24 C164.88,161.47 166.14,161.77 166.96,162.59 C167.78,163.41 168.24,164.68 168.31,166.19 C168.38,167.70 167.94,169.70 167.41,171.68 C166.88,173.66 166.15,175.94 165.16,178.07 C164.17,180.20 162.84,182.65 161.47,184.46 C160.10,186.28 158.63,187.82 156.97,188.96 C155.31,190.10 153.31,190.99 151.48,191.30 C149.65,191.62 147.50,191.54 145.99,190.85 C144.48,190.16 143.14,188.99 142.39,187.16 C141.64,185.33 141.56,181.84 141.49,179.87Z" fill="#000" fill-opacity="0.1" stroke="#333" stroke-width="0.55"/>
<path d="M143.16,179.35 C143.09,177.65 143.16,176.90 143.55,175.45 C143.94,174.01 144.64,172.15 145.50,170.70 C146.36,169.24 147.51,167.77 148.70,166.72 C149.88,165.66 151.15,164.96 152.60,164.38 C154.04,163.79 155.77,163.40 157.35,163.21 C158.94,163.01 160.80,163.01 162.11,163.21 C163.42,163.40 164.52,163.66 165.23,164.38 C165.95,165.09 166.34,166.19 166.40,167.50 C166.47,168.81 166.08,170.54 165.62,172.26 C165.17,173.97 164.53,175.95 163.67,177.79 C162.81,179.64 161.66,181.76 160.47,183.33 C159.29,184.91 158.02,186.24 156.57,187.23 C155.13,188.22 153.40,188.99 151.82,189.26 C150.23,189.53 148.37,189.47 147.06,188.87 C145.75,188.27 144.59,187.26 143.94,185.67 C143.29,184.09 143.22,181.06 143.16,179.35Z" fill="#000" fill-opacity="0.15" stroke="none"/>
<path d="M145.10,178.75 C145.05,177.35 145.10,176.74 145.42,175.55 C145.74,174.37 146.32,172.84 147.02,171.65 C147.73,170.45 148.68,169.25 149.65,168.38 C150.62,167.52 151.66,166.94 152.85,166.46 C154.03,165.98 155.45,165.66 156.75,165.50 C158.05,165.34 159.58,165.34 160.66,165.50 C161.73,165.66 162.63,165.88 163.22,166.46 C163.80,167.05 164.12,167.95 164.18,169.02 C164.23,170.10 163.91,171.52 163.54,172.93 C163.16,174.34 162.64,175.96 161.94,177.47 C161.23,178.99 160.28,180.73 159.31,182.02 C158.34,183.31 157.30,184.41 156.11,185.22 C154.93,186.03 153.51,186.66 152.21,186.88 C150.91,187.10 149.38,187.05 148.30,186.56 C147.23,186.07 146.28,185.24 145.74,183.94 C145.21,182.63 145.16,180.15 145.10,178.75Z" fill="#000" fill-opacity="0.19" stroke="none"/>
<path d="M147.05,178.15 C147.01,177.06 147.05,176.58 147.30,175.65 C147.55,174.72 148.00,173.53 148.55,172.60 C149.10,171.67 149.84,170.73 150.60,170.05 C151.36,169.38 152.17,168.93 153.10,168.55 C154.03,168.18 155.13,167.93 156.15,167.80 C157.17,167.68 158.36,167.68 159.20,167.80 C160.04,167.93 160.74,168.09 161.20,168.55 C161.66,169.01 161.91,169.71 161.95,170.55 C161.99,171.39 161.74,172.50 161.45,173.60 C161.16,174.70 160.75,175.97 160.20,177.15 C159.65,178.33 158.91,179.69 158.15,180.70 C157.39,181.71 156.58,182.57 155.65,183.20 C154.72,183.83 153.62,184.32 152.60,184.50 C151.58,184.68 150.39,184.63 149.55,184.25 C148.71,183.87 147.97,183.22 147.55,182.20 C147.13,181.18 147.09,179.24 147.05,178.15Z" fill="#000" fill-opacity="0.23" stroke="none"/>
<ellipse cx="154" cy="175" rx="16" ry="11" fill="url(#g9)" transform="rotate(-60 154 175)"/>
<ellipse cx="152.5" cy="176.5" rx="10.0" ry="6.5" fill="url(#g10)" opacity="0.7" transform="rotate(-75 152.5 176.5)"/>
<ellipse cx="149.2" cy="176.2" rx="2.6" ry="6.8" fill="url(#g11)" transform="rotate(-8 149.2 176.2)"/>
<ellipse cx="156.0" cy="175.0" rx="2.0" ry="5.5" fill="url(#g12)" transform="rotate(-8 156.0 175.0)"/>
<ellipse cx="153.2" cy="177.3" rx="4.0" ry="0.6" fill="#fff" fill-opacity="0.9" transform="rotate(-88 153.2 177.3)"/>
</g>
<line x1="143.80" y1="141.80" x2="143.80" y2="193.40" stroke="#8a8a8a" stroke-width="1.0"/>
<line x1="126.60" y1="182.40" x2="183.90" y2="182.40" stroke="#8a8a8a" stroke-width="1.0"/>
<rect x="126.60" y="141.80" width="57.30" height="51.60" fill="none" stroke="#a8a8a8" stroke-width="0.8"/>
<text x="127.80" y="145.40" font-size="3.9" font-weight="bold" text-anchor="start" fill="#333">1.68%</text>
<text x="182.30" y="145.40" font-size="3.9" font-weight="bold" text-anchor="end" fill="#333">79.8%</text>
<text x="127.80" y="192.10" font-size="3.9" font-weight="bold" text-anchor="start" fill="#333">1.94%</text>
<text x="182.30" y="192.10" font-size="3.9" font-weight="bold" text-anchor="end" fill="#333">17.6%</text>
<text x="194.20" y="147.40" font-size="3.8" font-weight="bold" text-anchor="end" fill="#111">10</text>
<text x="195.20" y="145.10" font-size="2.9" font-weight="bold" text-anchor="start" fill="#111">4</text>
<text x="194.20" y="155.70" font-size="3.8" font-weight="bold" text-anchor="end" fill="#111">10</text>
<text x="195.20" y="153.40" font-size="2.9" font-weight="bold" text-anchor="start" fill="#111">3</text>
<text x="194.20" y="167.70" font-size="3.8" font-weight="bold" text-anchor="end" fill="#111">10</text>
<text x="195.20" y="165.40" font-size="2.9" font-weight="bold" text-anchor="start" fill="#111">2</text>
<text x="194.20" y="180.20" font-size="3.8" font-weight="bold" text-anchor="end" fill="#111">10</text>
<text x="195.20" y="177.90" font-size="2.9" font-weight="bold" text-anchor="start" fill="#111">1</text>
<text x="194.20" y="189.70" font-size="3.8" font-weight="bold" text-anchor="end" fill="#111">10</text>
<text x="195.20" y="187.40" font-size="2.9" font-weight="bold" text-anchor="start" fill="#111">0</text>
<text x="202.52" y="197.70" font-size="3.8" font-weight="bold" text-anchor="middle" fill="#111">10</text>
<text x="204.92" y="194.80" font-size="2.9" font-weight="bold" text-anchor="start" fill="#111">0</text>
<text x="214.60" y="197.70" font-size="3.8" font-weight="bold" text-anchor="middle" fill="#111">10</text>
<text x="217.00" y="194.80" font-size="2.9" font-weight="bold" text-anchor="start" fill="#111">1</text>
<text x="229.40" y="197.70" font-size="3.8" font-weight="bold" text-anchor="middle" fill="#111">10</text>
<text x="231.80" y="194.80" font-size="2.9" font-weight="bold" text-anchor="start" fill="#111">2</text>
<text x="242.08" y="197.70" font-size="3.8" font-weight="bold" text-anchor="middle" fill="#111">10</text>
<text x="244.48" y="194.80" font-size="2.9" font-weight="bold" text-anchor="start" fill="#111">3</text>
<text x="255.07" y="197.70" font-size="3.8" font-weight="bold" text-anchor="middle" fill="#111">10</text>
<text x="257.47" y="194.80" font-size="2.9" font-weight="bold" text-anchor="start" fill="#111">4</text>
<line x1="202.22" y1="191.80" x2="202.22" y2="193.00" stroke="#777" stroke-width="0.5"/>
<line x1="215.51" y1="191.80" x2="215.51" y2="193.00" stroke="#777" stroke-width="0.5"/>
<line x1="229.40" y1="191.80" x2="229.40" y2="193.00" stroke="#777" stroke-width="0.5"/>
<line x1="242.08" y1="191.80" x2="242.08" y2="193.00" stroke="#777" stroke-width="0.5"/>
<line x1="255.37" y1="191.80" x2="255.37" y2="193.00" stroke="#777" stroke-width="0.5"/>
<line x1="198.00" y1="146.00" x2="199.20" y2="146.00" stroke="#777" stroke-width="0.5"/>
<line x1="198.00" y1="154.30" x2="199.20" y2="154.30" stroke="#777" stroke-width="0.5"/>
<line x1="198.00" y1="166.30" x2="199.20" y2="166.30" stroke="#777" stroke-width="0.5"/>
<line x1="198.00" y1="178.80" x2="199.20" y2="178.80" stroke="#777" stroke-width="0.5"/>
<line x1="198.00" y1="188.30" x2="199.20" y2="188.30" stroke="#777" stroke-width="0.5"/>
<g clip-path="url(#c6)">
<path d="M214.80,177.70 C214.88,175.93 214.68,173.43 215.30,171.30 C215.92,169.17 217.25,166.85 218.50,164.90 C219.75,162.95 221.20,161.02 222.80,159.60 C224.40,158.18 226.15,157.20 228.10,156.40 C230.05,155.60 232.55,155.07 234.50,154.80 C236.45,154.53 238.38,154.37 239.80,154.80 C241.22,155.23 242.20,156.25 243.00,157.40 C243.80,158.55 244.43,160.10 244.60,161.70 C244.77,163.30 244.45,165.05 244.00,167.00 C243.55,168.95 242.78,171.27 241.90,173.40 C241.02,175.53 239.77,177.85 238.70,179.80 C237.63,181.75 236.73,183.50 235.50,185.10 C234.27,186.70 232.88,188.42 231.30,189.40 C229.72,190.38 227.78,190.92 226.00,191.00 C224.22,191.08 222.12,190.70 220.60,189.90 C219.08,189.10 217.87,187.53 216.90,186.20 C215.93,184.87 215.15,183.32 214.80,181.90 C214.45,180.48 214.72,179.47 214.80,177.70Z" fill="#000" fill-opacity="0.06" stroke="#333" stroke-width="0.55"/>
<path d="M216.27,177.18 C216.34,175.59 216.16,173.34 216.72,171.42 C217.28,169.50 218.47,167.41 219.60,165.66 C220.72,163.91 222.03,162.16 223.47,160.89 C224.91,159.61 226.49,158.73 228.24,158.01 C230.00,157.29 232.25,156.81 234.00,156.57 C235.75,156.33 237.50,156.18 238.77,156.57 C240.05,156.96 240.93,157.88 241.65,158.91 C242.37,159.94 242.94,161.34 243.09,162.78 C243.24,164.22 242.96,165.80 242.55,167.55 C242.15,169.31 241.45,171.39 240.66,173.31 C239.87,175.23 238.74,177.32 237.78,179.07 C236.82,180.83 236.01,182.40 234.90,183.84 C233.79,185.28 232.55,186.83 231.12,187.71 C229.69,188.59 227.95,189.08 226.35,189.15 C224.75,189.22 222.86,188.88 221.49,188.16 C220.12,187.44 219.03,186.03 218.16,184.83 C217.29,183.63 216.59,182.24 216.27,180.96 C215.96,179.69 216.20,178.77 216.27,177.18Z" fill="#000" fill-opacity="0.1" stroke="#333" stroke-width="0.55"/>
<path d="M218.03,176.56 C218.10,175.18 217.94,173.23 218.42,171.56 C218.91,169.90 219.94,168.09 220.92,166.57 C221.89,165.05 223.03,163.54 224.27,162.44 C225.52,161.33 226.89,160.57 228.41,159.94 C229.93,159.32 231.88,158.90 233.40,158.69 C234.92,158.49 236.43,158.36 237.53,158.69 C238.64,159.03 239.41,159.83 240.03,160.72 C240.65,161.62 241.15,162.83 241.28,164.08 C241.41,165.32 241.16,166.69 240.81,168.21 C240.46,169.73 239.86,171.54 239.17,173.20 C238.48,174.87 237.51,176.67 236.68,178.19 C235.84,179.72 235.14,181.08 234.18,182.33 C233.22,183.58 232.14,184.92 230.90,185.68 C229.67,186.45 228.16,186.87 226.77,186.93 C225.38,187.00 223.74,186.70 222.56,186.07 C221.38,185.45 220.43,184.23 219.67,183.19 C218.92,182.15 218.31,180.94 218.03,179.83 C217.76,178.73 217.97,177.93 218.03,176.56Z" fill="#000" fill-opacity="0.15" stroke="none"/>
<path d="M220.09,175.83 C220.15,174.70 220.02,173.10 220.41,171.73 C220.81,170.37 221.66,168.88 222.46,167.64 C223.26,166.39 224.19,165.15 225.21,164.24 C226.24,163.34 227.36,162.71 228.60,162.20 C229.85,161.68 231.45,161.34 232.70,161.17 C233.95,161.00 235.19,160.89 236.09,161.17 C237.00,161.45 237.63,162.10 238.14,162.84 C238.65,163.57 239.06,164.56 239.16,165.59 C239.27,166.61 239.07,167.73 238.78,168.98 C238.49,170.23 238.00,171.71 237.44,173.08 C236.87,174.44 236.07,175.92 235.39,177.17 C234.71,178.42 234.13,179.54 233.34,180.56 C232.55,181.59 231.67,182.69 230.65,183.32 C229.64,183.95 228.40,184.29 227.26,184.34 C226.12,184.39 224.77,184.15 223.80,183.64 C222.83,183.12 222.05,182.12 221.44,181.27 C220.82,180.41 220.32,179.42 220.09,178.52 C219.87,177.61 220.04,176.96 220.09,175.83Z" fill="#000" fill-opacity="0.19" stroke="none"/>
<path d="M222.15,175.10 C222.19,174.22 222.09,172.97 222.40,171.90 C222.71,170.83 223.38,169.67 224.00,168.70 C224.62,167.72 225.35,166.76 226.15,166.05 C226.95,165.34 227.83,164.85 228.80,164.45 C229.78,164.05 231.03,163.78 232.00,163.65 C232.97,163.52 233.94,163.43 234.65,163.65 C235.36,163.87 235.85,164.38 236.25,164.95 C236.65,165.52 236.97,166.30 237.05,167.10 C237.13,167.90 236.97,168.78 236.75,169.75 C236.53,170.72 236.14,171.88 235.70,172.95 C235.26,174.02 234.63,175.18 234.10,176.15 C233.57,177.12 233.12,178.00 232.50,178.80 C231.88,179.60 231.19,180.46 230.40,180.95 C229.61,181.44 228.64,181.71 227.75,181.75 C226.86,181.79 225.81,181.60 225.05,181.20 C224.29,180.80 223.68,180.02 223.20,179.35 C222.72,178.68 222.32,177.91 222.15,177.20 C221.98,176.49 222.11,175.98 222.15,175.10Z" fill="#000" fill-opacity="0.23" stroke="none"/>
<ellipse cx="229.5" cy="172.5" rx="17" ry="11" fill="url(#g13)" transform="rotate(-60 229.5 172.5)"/>
<ellipse cx="229.0" cy="173.5" rx="11.0" ry="7.0" fill="url(#g14)" opacity="0.7" transform="rotate(-62 229.0 173.5)"/>
<ellipse cx="223.8" cy="175.5" rx="2.8" ry="6.0" fill="url(#g15)" transform="rotate(-15 223.8 175.5)"/>
<ellipse cx="235.3" cy="171.5" rx="2.4" ry="4.8" fill="url(#g16)" transform="rotate(-20 235.3 171.5)"/>
<ellipse cx="229.5" cy="179.5" rx="3.0" ry="2.6" fill="url(#g17)" transform="rotate(0 229.5 179.5)"/>
<ellipse cx="228.6" cy="171.8" rx="1.7" ry="1.4" fill="#fff" fill-opacity="0.9" transform="rotate(0 228.6 171.8)"/>
</g>
<line x1="217.60" y1="141.80" x2="217.60" y2="191.80" stroke="#8a8a8a" stroke-width="1.0"/>
<line x1="199.20" y1="181.30" x2="259.60" y2="181.30" stroke="#8a8a8a" stroke-width="1.0"/>
<rect x="199.20" y="141.80" width="60.40" height="50.00" fill="none" stroke="#a8a8a8" stroke-width="0.8"/>
<text x="200.40" y="145.40" font-size="3.9" font-weight="bold" text-anchor="start" fill="#333">1.38%</text>
<text x="258.00" y="145.40" font-size="3.9" font-weight="bold" text-anchor="end" fill="#333">86.4%</text>
<text x="200.40" y="190.50" font-size="3.9" font-weight="bold" text-anchor="start" fill="#333">0.558%</text>
<text x="258.00" y="190.50" font-size="3.9" font-weight="bold" text-anchor="end" fill="#333">11.7%</text>
<text x="288.20" y="20.93" font-size="3.8" font-weight="bold" text-anchor="end" fill="#111">10</text>
<text x="289.20" y="18.63" font-size="2.9" font-weight="bold" text-anchor="start" fill="#111">4</text>
<text x="288.20" y="29.28" font-size="3.8" font-weight="bold" text-anchor="end" fill="#111">10</text>
<text x="289.20" y="26.98" font-size="2.9" font-weight="bold" text-anchor="start" fill="#111">3</text>
<text x="288.20" y="41.35" font-size="3.8" font-weight="bold" text-anchor="end" fill="#111">10</text>
<text x="289.20" y="39.05" font-size="2.9" font-weight="bold" text-anchor="start" fill="#111">2</text>
<text x="288.20" y="53.92" font-size="3.8" font-weight="bold" text-anchor="end" fill="#111">10</text>
<text x="289.20" y="51.62" font-size="2.9" font-weight="bold" text-anchor="start" fill="#111">1</text>
<text x="288.20" y="63.48" font-size="3.8" font-weight="bold" text-anchor="end" fill="#111">10</text>
<text x="289.20" y="61.18" font-size="2.9" font-weight="bold" text-anchor="start" fill="#111">0</text>
<text x="296.45" y="71.50" font-size="3.8" font-weight="bold" text-anchor="middle" fill="#111">10</text>
<text x="298.85" y="68.60" font-size="2.9" font-weight="bold" text-anchor="start" fill="#111">0</text>
<text x="308.27" y="71.50" font-size="3.8" font-weight="bold" text-anchor="middle" fill="#111">10</text>
<text x="310.67" y="68.60" font-size="2.9" font-weight="bold" text-anchor="start" fill="#111">1</text>
<text x="322.75" y="71.50" font-size="3.8" font-weight="bold" text-anchor="middle" fill="#111">10</text>
<text x="325.15" y="68.60" font-size="2.9" font-weight="bold" text-anchor="start" fill="#111">2</text>
<text x="335.16" y="71.50" font-size="3.8" font-weight="bold" text-anchor="middle" fill="#111">10</text>
<text x="337.56" y="68.60" font-size="2.9" font-weight="bold" text-anchor="start" fill="#111">3</text>
<text x="347.87" y="71.50" font-size="3.8" font-weight="bold" text-anchor="middle" fill="#111">10</text>
<text x="350.27" y="68.60" font-size="2.9" font-weight="bold" text-anchor="start" fill="#111">4</text>
<line x1="296.15" y1="65.60" x2="296.15" y2="66.80" stroke="#777" stroke-width="0.5"/>
<line x1="309.16" y1="65.60" x2="309.16" y2="66.80" stroke="#777" stroke-width="0.5"/>
<line x1="322.75" y1="65.60" x2="322.75" y2="66.80" stroke="#777" stroke-width="0.5"/>
<line x1="335.16" y1="65.60" x2="335.16" y2="66.80" stroke="#777" stroke-width="0.5"/>
<line x1="348.16" y1="65.60" x2="348.16" y2="66.80" stroke="#777" stroke-width="0.5"/>
<line x1="292.00" y1="19.53" x2="293.20" y2="19.53" stroke="#777" stroke-width="0.5"/>
<line x1="292.00" y1="27.88" x2="293.20" y2="27.88" stroke="#777" stroke-width="0.5"/>
<line x1="292.00" y1="39.95" x2="293.20" y2="39.95" stroke="#777" stroke-width="0.5"/>
<line x1="292.00" y1="52.52" x2="293.20" y2="52.52" stroke="#777" stroke-width="0.5"/>
<line x1="292.00" y1="62.08" x2="293.20" y2="62.08" stroke="#777" stroke-width="0.5"/>
<g clip-path="url(#c7)">
<path d="M304.00,67.00 C299.05,66.55 303.98,65.38 304.60,64.30 C305.22,63.22 306.55,62.17 307.70,60.50 C308.85,58.83 310.22,55.97 311.50,54.30 C312.78,52.63 313.98,51.58 315.40,50.50 C316.82,49.42 318.33,48.30 320.00,47.80 C321.67,47.30 323.60,47.38 325.40,47.50 C327.20,47.62 329.45,47.75 330.80,48.50 C332.15,49.25 332.87,50.78 333.50,52.00 C334.13,53.22 334.42,54.38 334.60,55.80 C334.78,57.22 334.65,58.63 334.60,60.50 C334.55,62.37 339.40,65.92 334.30,67.00 C329.20,68.08 308.95,67.45 304.00,67.00Z" fill="#000" fill-opacity="0.02" stroke="#333" stroke-width="0.55"/>
<path d="M306.72,66.92 C302.56,66.54 306.71,65.56 307.22,64.65 C307.74,63.74 308.86,62.86 309.83,61.46 C310.79,60.06 311.94,57.65 313.02,56.25 C314.10,54.85 315.11,53.97 316.30,53.06 C317.49,52.15 318.76,51.21 320.16,50.79 C321.56,50.37 323.18,50.44 324.70,50.54 C326.21,50.64 328.10,50.75 329.23,51.38 C330.37,52.01 330.97,53.30 331.50,54.32 C332.03,55.34 332.27,56.32 332.42,57.51 C332.58,58.70 332.47,59.89 332.42,61.46 C332.38,63.03 336.46,66.01 332.17,66.92 C327.89,67.83 310.88,67.30 306.72,66.92Z" fill="#000" fill-opacity="0.04" stroke="#333" stroke-width="0.55"/>
<path d="M309.10,66.85 C305.64,66.53 309.09,65.72 309.52,64.96 C309.95,64.20 310.88,63.47 311.69,62.30 C312.50,61.13 313.45,59.13 314.35,57.96 C315.25,56.79 316.09,56.06 317.08,55.30 C318.07,54.54 319.13,53.76 320.30,53.41 C321.47,53.06 322.82,53.12 324.08,53.20 C325.34,53.28 326.92,53.38 327.86,53.90 C328.81,54.42 329.31,55.50 329.75,56.35 C330.19,57.20 330.39,58.02 330.52,59.01 C330.65,60.00 330.56,60.99 330.52,62.30 C330.49,63.61 333.88,66.09 330.31,66.85 C326.74,67.61 312.56,67.16 309.10,66.85Z" fill="#000" fill-opacity="0.07" stroke="#333" stroke-width="0.55"/>
<path d="M311.31,66.78 C308.49,66.53 311.30,65.86 311.65,65.25 C312.00,64.63 312.76,64.03 313.42,63.08 C314.07,62.13 314.85,60.50 315.58,59.55 C316.32,58.60 317.00,58.00 317.81,57.38 C318.62,56.76 319.48,56.13 320.43,55.84 C321.38,55.56 322.48,55.60 323.51,55.67 C324.53,55.74 325.82,55.81 326.59,56.24 C327.36,56.67 327.76,57.54 328.12,58.23 C328.49,58.93 328.65,59.59 328.75,60.40 C328.86,61.21 328.78,62.02 328.75,63.08 C328.72,64.14 331.49,66.17 328.58,66.78 C325.67,67.40 314.13,67.04 311.31,66.78Z" fill="#000" fill-opacity="0.11" stroke="#333" stroke-width="0.55"/>
<path d="M313.52,66.72 C311.34,66.52 313.51,66.01 313.78,65.53 C314.06,65.06 314.64,64.59 315.15,63.86 C315.65,63.13 316.26,61.87 316.82,61.13 C317.38,60.40 317.91,59.94 318.54,59.46 C319.16,58.98 319.83,58.49 320.56,58.27 C321.29,58.05 322.14,58.09 322.94,58.14 C323.73,58.19 324.72,58.25 325.31,58.58 C325.91,58.91 326.22,59.58 326.50,60.12 C326.78,60.66 326.90,61.17 326.98,61.79 C327.06,62.42 327.01,63.04 326.98,63.86 C326.96,64.68 329.10,66.24 326.85,66.72 C324.61,67.20 315.70,66.92 313.52,66.72Z" fill="#000" fill-opacity="0.16" stroke="#333" stroke-width="0.55"/>
<ellipse cx="322" cy="60.5" rx="13" ry="8" fill="url(#g18)" transform="rotate(0 322 60.5)"/>
<ellipse cx="320.2" cy="60.8" rx="7.5" ry="4.3" fill="url(#g19)" opacity="1" transform="rotate(0 320.2 60.8)"/>
<ellipse cx="320.4" cy="62.0" rx="1.7" ry="0.8" fill="#fff" fill-opacity="0.9" transform="rotate(0 320.4 62.0)"/>
</g>
<line x1="310.80" y1="15.30" x2="310.80" y2="65.60" stroke="#8a8a8a" stroke-width="1.0"/>
<line x1="293.20" y1="54.80" x2="352.30" y2="54.80" stroke="#8a8a8a" stroke-width="1.0"/>
<rect x="293.20" y="15.30" width="59.10" height="50.30" fill="none" stroke="#a8a8a8" stroke-width="0.8"/>
<text x="294.40" y="18.90" font-size="3.9" font-weight="bold" text-anchor="start" fill="#333">0.192%</text>
<text x="350.70" y="18.90" font-size="3.9" font-weight="bold" text-anchor="end" fill="#333">6.37%</text>
<text x="294.40" y="64.30" font-size="3.9" font-weight="bold" text-anchor="start" fill="#333">3.91%</text>
<text x="350.70" y="64.30" font-size="3.9" font-weight="bold" text-anchor="end" fill="#333">89.5%</text>
<text x="362.80" y="21.01" font-size="3.8" font-weight="bold" text-anchor="end" fill="#111">10</text>
<text x="363.80" y="18.71" font-size="2.9" font-weight="bold" text-anchor="start" fill="#111">4</text>
<text x="362.80" y="29.33" font-size="3.8" font-weight="bold" text-anchor="end" fill="#111">10</text>
<text x="363.80" y="27.03" font-size="2.9" font-weight="bold" text-anchor="start" fill="#111">3</text>
<text x="362.80" y="41.35" font-size="3.8" font-weight="bold" text-anchor="end" fill="#111">10</text>
<text x="363.80" y="39.05" font-size="2.9" font-weight="bold" text-anchor="start" fill="#111">2</text>
<text x="362.80" y="53.87" font-size="3.8" font-weight="bold" text-anchor="end" fill="#111">10</text>
<text x="363.80" y="51.57" font-size="2.9" font-weight="bold" text-anchor="start" fill="#111">1</text>
<text x="362.80" y="63.39" font-size="3.8" font-weight="bold" text-anchor="end" fill="#111">10</text>
<text x="363.80" y="61.09" font-size="2.9" font-weight="bold" text-anchor="start" fill="#111">0</text>
<text x="371.07" y="71.40" font-size="3.8" font-weight="bold" text-anchor="middle" fill="#111">10</text>
<text x="373.47" y="68.50" font-size="2.9" font-weight="bold" text-anchor="start" fill="#111">0</text>
<text x="382.95" y="71.40" font-size="3.8" font-weight="bold" text-anchor="middle" fill="#111">10</text>
<text x="385.35" y="68.50" font-size="2.9" font-weight="bold" text-anchor="start" fill="#111">1</text>
<text x="397.50" y="71.40" font-size="3.8" font-weight="bold" text-anchor="middle" fill="#111">10</text>
<text x="399.90" y="68.50" font-size="2.9" font-weight="bold" text-anchor="start" fill="#111">2</text>
<text x="409.97" y="71.40" font-size="3.8" font-weight="bold" text-anchor="middle" fill="#111">10</text>
<text x="412.37" y="68.50" font-size="2.9" font-weight="bold" text-anchor="start" fill="#111">3</text>
<text x="422.75" y="71.40" font-size="3.8" font-weight="bold" text-anchor="middle" fill="#111">10</text>
<text x="425.14" y="68.50" font-size="2.9" font-weight="bold" text-anchor="start" fill="#111">4</text>
<line x1="370.77" y1="65.50" x2="370.77" y2="66.70" stroke="#777" stroke-width="0.5"/>
<line x1="383.84" y1="65.50" x2="383.84" y2="66.70" stroke="#777" stroke-width="0.5"/>
<line x1="397.50" y1="65.50" x2="397.50" y2="66.70" stroke="#777" stroke-width="0.5"/>
<line x1="409.97" y1="65.50" x2="409.97" y2="66.70" stroke="#777" stroke-width="0.5"/>
<line x1="423.04" y1="65.50" x2="423.04" y2="66.70" stroke="#777" stroke-width="0.5"/>
<line x1="366.60" y1="19.61" x2="367.80" y2="19.61" stroke="#777" stroke-width="0.5"/>
<line x1="366.60" y1="27.93" x2="367.80" y2="27.93" stroke="#777" stroke-width="0.5"/>
<line x1="366.60" y1="39.95" x2="367.80" y2="39.95" stroke="#777" stroke-width="0.5"/>
<line x1="366.60" y1="52.47" x2="367.80" y2="52.47" stroke="#777" stroke-width="0.5"/>
<line x1="366.60" y1="61.99" x2="367.80" y2="61.99" stroke="#777" stroke-width="0.5"/>
<g clip-path="url(#c8)">
<path d="M381.00,67.00 C376.32,66.05 381.18,63.43 382.10,61.30 C383.02,59.17 385.32,56.13 386.50,54.20 C387.68,52.27 388.45,51.63 389.20,49.70 C389.95,47.77 390.27,44.30 391.00,42.60 C391.73,40.90 392.57,40.35 393.60,39.50 C394.63,38.65 396.02,37.50 397.20,37.50 C398.38,37.50 399.38,38.78 400.70,39.50 C402.02,40.22 403.62,41.35 405.10,41.80 C406.58,42.25 408.57,41.77 409.60,42.20 C410.63,42.63 411.08,43.15 411.30,44.40 C411.52,45.65 410.90,47.93 410.90,49.70 C410.90,51.47 411.37,53.22 411.30,55.00 C411.23,56.78 410.68,58.40 410.50,60.40 C410.32,62.40 415.12,65.90 410.20,67.00 C405.28,68.10 385.68,67.95 381.00,67.00Z" fill="#000" fill-opacity="0.02" stroke="#333" stroke-width="0.55"/>
<path d="M383.72,66.92 C379.79,66.12 383.87,63.92 384.64,62.13 C385.41,60.34 387.35,57.79 388.34,56.17 C389.33,54.54 389.98,54.01 390.61,52.39 C391.24,50.76 391.50,47.85 392.12,46.42 C392.74,45.00 393.44,44.53 394.30,43.82 C395.17,43.11 396.33,42.14 397.33,42.14 C398.32,42.14 399.16,43.22 400.27,43.82 C401.37,44.42 402.72,45.37 403.96,45.75 C405.21,46.13 406.88,45.72 407.74,46.09 C408.61,46.45 408.99,46.89 409.17,47.94 C409.35,48.99 408.84,50.90 408.84,52.39 C408.84,53.87 409.23,55.34 409.17,56.84 C409.12,58.34 408.65,59.70 408.50,61.38 C408.35,63.06 412.38,66.00 408.25,66.92 C404.12,67.84 387.65,67.72 383.72,66.92Z" fill="#000" fill-opacity="0.04" stroke="#333" stroke-width="0.55"/>
<path d="M386.10,66.85 C382.82,66.19 386.23,64.35 386.87,62.86 C387.51,61.37 389.12,59.24 389.95,57.89 C390.78,56.54 391.31,56.09 391.84,54.74 C392.37,53.39 392.59,50.96 393.10,49.77 C393.61,48.58 394.20,48.20 394.92,47.60 C395.64,47.01 396.61,46.20 397.44,46.20 C398.27,46.20 398.97,47.10 399.89,47.60 C400.81,48.10 401.93,48.90 402.97,49.21 C404.01,49.52 405.40,49.19 406.12,49.49 C406.84,49.79 407.16,50.16 407.31,51.03 C407.46,51.91 407.03,53.50 407.03,54.74 C407.03,55.98 407.36,57.20 407.31,58.45 C407.26,59.70 406.88,60.83 406.75,62.23 C406.62,63.63 409.98,66.08 406.54,66.85 C403.10,67.62 389.38,67.51 386.10,66.85Z" fill="#000" fill-opacity="0.07" stroke="#333" stroke-width="0.55"/>
<path d="M388.31,66.78 C385.64,66.24 388.41,64.75 388.94,63.54 C389.46,62.32 390.77,60.59 391.44,59.49 C392.12,58.39 392.56,58.03 392.98,56.92 C393.41,55.82 393.59,53.85 394.01,52.88 C394.43,51.91 394.90,51.59 395.49,51.11 C396.08,50.63 396.87,49.97 397.54,49.97 C398.22,49.97 398.79,50.70 399.54,51.11 C400.29,51.52 401.20,52.16 402.05,52.42 C402.89,52.68 404.02,52.40 404.61,52.65 C405.20,52.90 405.46,53.19 405.58,53.90 C405.70,54.62 405.35,55.92 405.35,56.92 C405.35,57.93 405.62,58.93 405.58,59.95 C405.54,60.96 405.23,61.88 405.12,63.02 C405.02,64.16 407.76,66.16 404.95,66.78 C402.15,67.41 390.98,67.33 388.31,66.78Z" fill="#000" fill-opacity="0.11" stroke="#333" stroke-width="0.55"/>
<path d="M390.52,66.72 C388.46,66.30 390.60,65.15 391.00,64.21 C391.41,63.27 392.42,61.94 392.94,61.09 C393.46,60.24 393.80,59.96 394.13,59.11 C394.46,58.26 394.60,56.73 394.92,55.98 C395.24,55.24 395.61,54.99 396.06,54.62 C396.52,54.25 397.13,53.74 397.65,53.74 C398.17,53.74 398.61,54.30 399.19,54.62 C399.77,54.94 400.47,55.43 401.12,55.63 C401.78,55.83 402.65,55.62 403.10,55.81 C403.56,56.00 403.76,56.23 403.85,56.78 C403.95,57.33 403.68,58.33 403.68,59.11 C403.68,59.89 403.88,60.66 403.85,61.44 C403.82,62.22 403.58,62.94 403.50,63.82 C403.42,64.70 405.53,66.24 403.37,66.72 C401.20,67.20 392.58,67.14 390.52,66.72Z" fill="#000" fill-opacity="0.16" stroke="#333" stroke-width="0.55"/>
<ellipse cx="397" cy="60.5" rx="15" ry="8" fill="url(#g20)" transform="rotate(0 397 60.5)"/>
<ellipse cx="395.2" cy="61.6" rx="9.0" ry="4.6" fill="url(#g21)" opacity="1" transform="rotate(0 395.2 61.6)"/>
<ellipse cx="395.8" cy="61.2" rx="2.0" ry="0.8" fill="#fff" fill-opacity="0.9" transform="rotate(0 395.8 61.2)"/>
</g>
<line x1="385.80" y1="15.40" x2="385.80" y2="65.50" stroke="#8a8a8a" stroke-width="1.0"/>
<line x1="367.80" y1="55.10" x2="427.20" y2="55.10" stroke="#8a8a8a" stroke-width="1.0"/>
<rect x="367.80" y="15.40" width="59.40" height="50.10" fill="none" stroke="#a8a8a8" stroke-width="0.8"/>
<text x="369.00" y="19.00" font-size="3.9" font-weight="bold" text-anchor="start" fill="#333">0.616%</text>
<text x="425.60" y="19.00" font-size="3.9" font-weight="bold" text-anchor="end" fill="#333">21.8%</text>
<text x="369.00" y="64.20" font-size="3.9" font-weight="bold" text-anchor="start" fill="#333">1.73%</text>
<text x="425.60" y="64.20" font-size="3.9" font-weight="bold" text-anchor="end" fill="#333">76.4%</text>
<text x="115.80" y="209.40" font-size="9.2" font-weight="bold" text-anchor="start" fill="#000">HLADR</text>
<line x1="150.30" y1="206.20" x2="259.50" y2="206.20" stroke="#333" stroke-width="0.9"/>
<polyline points="255.2,203.3 259.6,206.2 255.2,209.1" fill="none" stroke="#333" stroke-width="0.9"/>
<text x="282.80" y="82.80" font-size="9.2" font-weight="bold" text-anchor="start" fill="#000">HLADR</text>
<line x1="317.00" y1="79.30" x2="426.00" y2="79.30" stroke="#333" stroke-width="0.9"/>
<polyline points="421.8,76.4 426.2,79.3 421.8,82.2" fill="none" stroke="#333" stroke-width="0.9"/>
<rect x="289.30" y="94.60" width="61.20" height="52.40" fill="none" stroke="#a0a0a0" stroke-width="0.8"/>
<text x="286.30" y="98.80" font-size="3.9" font-weight="bold" text-anchor="end" fill="#333">100</text>
<line x1="288.10" y1="97.40" x2="289.30" y2="97.40" stroke="#888" stroke-width="0.5"/>
<text x="286.30" y="108.60" font-size="3.9" font-weight="bold" text-anchor="end" fill="#333">80</text>
<line x1="288.10" y1="107.20" x2="289.30" y2="107.20" stroke="#888" stroke-width="0.5"/>
<text x="286.30" y="118.40" font-size="3.9" font-weight="bold" text-anchor="end" fill="#333">60</text>
<line x1="288.10" y1="117.00" x2="289.30" y2="117.00" stroke="#888" stroke-width="0.5"/>
<text x="286.30" y="128.20" font-size="3.9" font-weight="bold" text-anchor="end" fill="#333">40</text>
<line x1="288.10" y1="126.80" x2="289.30" y2="126.80" stroke="#888" stroke-width="0.5"/>
<text x="286.30" y="138.00" font-size="3.9" font-weight="bold" text-anchor="end" fill="#333">20</text>
<line x1="288.10" y1="136.60" x2="289.30" y2="136.60" stroke="#888" stroke-width="0.5"/>
<text x="286.30" y="147.80" font-size="3.9" font-weight="bold" text-anchor="end" fill="#333">0</text>
<line x1="288.10" y1="146.40" x2="289.30" y2="146.40" stroke="#888" stroke-width="0.5"/>
<text x="293.00" y="153.60" font-size="3.9" font-weight="bold" text-anchor="middle" fill="#333">10</text>
<text x="295.30" y="151.00" font-size="2.8" font-weight="bold" text-anchor="start" fill="#333">0</text>
<line x1="294.50" y1="147.00" x2="294.50" y2="148.20" stroke="#888" stroke-width="0.5"/>
<text x="306.40" y="153.60" font-size="3.9" font-weight="bold" text-anchor="middle" fill="#333">10</text>
<text x="308.70" y="151.00" font-size="2.8" font-weight="bold" text-anchor="start" fill="#333">1</text>
<line x1="307.90" y1="147.00" x2="307.90" y2="148.20" stroke="#888" stroke-width="0.5"/>
<text x="319.80" y="153.60" font-size="3.9" font-weight="bold" text-anchor="middle" fill="#333">10</text>
<text x="322.10" y="151.00" font-size="2.8" font-weight="bold" text-anchor="start" fill="#333">2</text>
<line x1="321.30" y1="147.00" x2="321.30" y2="148.20" stroke="#888" stroke-width="0.5"/>
<text x="333.20" y="153.60" font-size="3.9" font-weight="bold" text-anchor="middle" fill="#333">10</text>
<text x="335.50" y="151.00" font-size="2.8" font-weight="bold" text-anchor="start" fill="#333">3</text>
<line x1="334.70" y1="147.00" x2="334.70" y2="148.20" stroke="#888" stroke-width="0.5"/>
<text x="346.60" y="153.60" font-size="3.9" font-weight="bold" text-anchor="middle" fill="#333">10</text>
<text x="348.90" y="151.00" font-size="2.8" font-weight="bold" text-anchor="start" fill="#333">4</text>
<line x1="348.10" y1="147.00" x2="348.10" y2="148.20" stroke="#888" stroke-width="0.5"/>
<polyline points="289.30,141.60 291.10,135.60 294.10,133.30 297.90,130.20 299.40,133.30 301.70,125.70 302.80,125.00 304.90,127.00 306.30,120.00 308.10,112.40 309.80,118.70 311.90,122.90 313.90,125.00 316.00,128.50 318.10,130.60 320.20,134.00 322.30,136.80 324.40,138.20 325.80,142.40 327.90,146.60 330.00,146.80" fill="none" stroke="#b0b0b0" stroke-width="1.1" stroke-linejoin="round"/>
<polyline points="289.30,143.90 291.80,140.10 294.10,138.60 296.40,137.80 298.70,140.10 301.70,138.60 304.70,138.30 307.80,137.50 311.20,136.10 313.20,134.00 314.60,128.50 316.00,124.30 317.40,120.10 318.80,117.30 320.20,115.90 320.90,111.70 322.30,105.50 323.40,111.70 324.80,113.10 325.80,115.90 327.20,127.00 328.60,141.00 330.00,146.60 350.50,146.60" fill="none" stroke="#5a5a5a" stroke-width="1.2" stroke-linejoin="round"/>
<text x="315.50" y="163.70" font-size="9.2" font-weight="bold" text-anchor="middle" fill="#000">CD14</text>
<rect x="376.40" y="94.40" width="60.40" height="52.20" fill="none" stroke="#a0a0a0" stroke-width="0.8"/>
<text x="373.40" y="98.60" font-size="3.9" font-weight="bold" text-anchor="end" fill="#333">100</text>
<line x1="375.20" y1="97.20" x2="376.40" y2="97.20" stroke="#888" stroke-width="0.5"/>
<text x="373.40" y="108.40" font-size="3.9" font-weight="bold" text-anchor="end" fill="#333">80</text>
<line x1="375.20" y1="107.00" x2="376.40" y2="107.00" stroke="#888" stroke-width="0.5"/>
<text x="373.40" y="118.20" font-size="3.9" font-weight="bold" text-anchor="end" fill="#333">60</text>
<line x1="375.20" y1="116.80" x2="376.40" y2="116.80" stroke="#888" stroke-width="0.5"/>
<text x="373.40" y="128.00" font-size="3.9" font-weight="bold" text-anchor="end" fill="#333">40</text>
<line x1="375.20" y1="126.60" x2="376.40" y2="126.60" stroke="#888" stroke-width="0.5"/>
<text x="373.40" y="137.80" font-size="3.9" font-weight="bold" text-anchor="end" fill="#333">20</text>
<line x1="375.20" y1="136.40" x2="376.40" y2="136.40" stroke="#888" stroke-width="0.5"/>
<text x="373.40" y="147.60" font-size="3.9" font-weight="bold" text-anchor="end" fill="#333">0</text>
<line x1="375.20" y1="146.20" x2="376.40" y2="146.20" stroke="#888" stroke-width="0.5"/>
<text x="380.10" y="153.20" font-size="3.9" font-weight="bold" text-anchor="middle" fill="#333">10</text>
<text x="382.40" y="150.60" font-size="2.8" font-weight="bold" text-anchor="start" fill="#333">0</text>
<line x1="381.60" y1="146.60" x2="381.60" y2="147.80" stroke="#888" stroke-width="0.5"/>
<text x="393.50" y="153.20" font-size="3.9" font-weight="bold" text-anchor="middle" fill="#333">10</text>
<text x="395.80" y="150.60" font-size="2.8" font-weight="bold" text-anchor="start" fill="#333">1</text>
<line x1="395.00" y1="146.60" x2="395.00" y2="147.80" stroke="#888" stroke-width="0.5"/>
<text x="406.90" y="153.20" font-size="3.9" font-weight="bold" text-anchor="middle" fill="#333">10</text>
<text x="409.20" y="150.60" font-size="2.8" font-weight="bold" text-anchor="start" fill="#333">2</text>
<line x1="408.40" y1="146.60" x2="408.40" y2="147.80" stroke="#888" stroke-width="0.5"/>
<text x="420.30" y="153.20" font-size="3.9" font-weight="bold" text-anchor="middle" fill="#333">10</text>
<text x="422.60" y="150.60" font-size="2.8" font-weight="bold" text-anchor="start" fill="#333">3</text>
<line x1="421.80" y1="146.60" x2="421.80" y2="147.80" stroke="#888" stroke-width="0.5"/>
<text x="433.70" y="153.20" font-size="3.9" font-weight="bold" text-anchor="middle" fill="#333">10</text>
<text x="436.00" y="150.60" font-size="2.8" font-weight="bold" text-anchor="start" fill="#333">4</text>
<line x1="435.20" y1="146.60" x2="435.20" y2="147.80" stroke="#888" stroke-width="0.5"/>
<polyline points="382.30,147.30 384.40,143.80 387.20,138.20 390.00,132.00 392.70,125.70 394.80,120.80 396.20,121.50 397.60,118.70 399.00,113.10 400.40,108.90 402.50,106.20 404.60,104.10 406.00,107.60 407.40,109.60 409.50,104.80 411.00,104.00 412.70,106.90 414.10,111.70 415.50,117.30 416.90,123.00 418.20,129.50 420.30,132.20 422.40,135.60 425.20,139.80 428.00,143.30 431.50,145.60 435.00,146.60" fill="none" stroke="#b0b0b0" stroke-width="1.1" stroke-linejoin="round"/>
<polyline points="376.60,146.60 383.00,146.60 385.80,144.50 388.60,141.70 391.30,139.60 394.10,138.90 396.20,136.80 398.30,132.70 400.40,127.10 402.50,120.10 404.60,114.50 406.00,111.70 407.40,110.30 409.50,105.50 411.30,104.10 412.70,106.90 414.10,111.70 415.50,117.30 416.90,124.30 418.20,128.50 420.30,132.70 422.40,136.10 425.20,140.30 428.00,143.80 431.50,145.90 435.00,146.60 436.80,146.60" fill="none" stroke="#5a5a5a" stroke-width="1.2" stroke-linejoin="round"/>
<text x="408.00" y="164.60" font-size="9.2" font-weight="bold" text-anchor="middle" fill="#000">PD-L1</text>
<text x="276.20" y="121.00" font-size="9.2" font-weight="bold" text-anchor="middle" fill="#000" transform="rotate(-90 276.2 121.0)">% MA<tspan dx="1.8">X</tspan></text>
<text x="364.00" y="120.50" font-size="9.2" font-weight="bold" text-anchor="middle" fill="#000" transform="rotate(-90 364.0 120.5)">% MA<tspan dx="1.8">X</tspan></text>
<line x1="283.40" y1="177.40" x2="306.20" y2="177.40" stroke="#666" stroke-width="1.4"/>
<text x="310.60" y="180.80" font-size="9.8" font-weight="bold" text-anchor="start" fill="#000">MDSC</text>
<line x1="348.00" y1="177.70" x2="370.70" y2="177.70" stroke="#aaa" stroke-width="1.4"/>
<text x="374.70" y="180.90" font-size="9.8" font-weight="bold" text-anchor="start" fill="#000">MDSC+4-IPP</text>
<text x="-0.50" y="235.50" font-size="12.4" font-weight="bold" text-anchor="start" fill="#000">B</text>
<text x="20.20" y="274.00" font-size="8.8" font-weight="bold" text-anchor="middle" fill="#000" transform="rotate(-90 20.2 274.0)" textLength="60" lengthAdjust="spacingAndGlyphs">% Positive cells</text>
<text x="19.40" y="340.20" font-size="8.4" font-weight="bold" text-anchor="middle" fill="#000" transform="rotate(-90 19.4 340.2)" textLength="13" lengthAdjust="spacingAndGlyphs">MFI</text>
<line x1="36.30" y1="247.00" x2="36.30" y2="300.00" stroke="#8a8a8a" stroke-width="1.0"/>
<line x1="36.30" y1="299.60" x2="103.50" y2="299.60" stroke="#7a7a7a" stroke-width="1.0"/>
<line x1="35.10" y1="247.40" x2="36.30" y2="247.40" stroke="#666" stroke-width="0.8"/>
<text x="34.10" y="249.90" font-size="7.0" font-weight="bold" text-anchor="end" fill="#111">60</text>
<line x1="35.10" y1="264.80" x2="36.30" y2="264.80" stroke="#666" stroke-width="0.8"/>
<text x="34.10" y="267.30" font-size="7.0" font-weight="bold" text-anchor="end" fill="#111">40</text>
<line x1="35.10" y1="282.20" x2="36.30" y2="282.20" stroke="#666" stroke-width="0.8"/>
<text x="34.10" y="284.70" font-size="7.0" font-weight="bold" text-anchor="end" fill="#111">20</text>
<line x1="35.10" y1="299.60" x2="36.30" y2="299.60" stroke="#666" stroke-width="0.8"/>
<text x="34.10" y="302.10" font-size="7.0" font-weight="bold" text-anchor="end" fill="#111">0</text>
<line x1="53.50" y1="288.60" x2="53.50" y2="284.40" stroke="#111" stroke-width="0.9"/>
<line x1="48.00" y1="284.40" x2="59.20" y2="284.40" stroke="#111" stroke-width="0.9"/>
<rect x="42.00" y="288.60" width="23.00" height="11.00" fill="#b4b4b4" stroke="#2a2a2a" stroke-width="1.0"/>
<line x1="87.00" y1="263.00" x2="87.00" y2="254.50" stroke="#111" stroke-width="0.9"/>
<line x1="81.80" y1="254.50" x2="92.60" y2="254.50" stroke="#111" stroke-width="0.9"/>
<rect x="75.70" y="263.00" width="22.60" height="36.60" fill="#404040" stroke="#2a2a2a" stroke-width="1.0"/>
<text x="86.90" y="255.30" font-size="15" font-weight="bold" text-anchor="middle" fill="#000">*</text>
<text x="68.20" y="240.60" font-size="9.9" font-weight="bold" text-anchor="middle" fill="#000" textLength="61.3" lengthAdjust="spacingAndGlyphs">CD80 HLADR</text>
<line x1="121.30" y1="246.80" x2="121.30" y2="299.90" stroke="#8a8a8a" stroke-width="1.0"/>
<line x1="121.30" y1="299.50" x2="188.50" y2="299.50" stroke="#7a7a7a" stroke-width="1.0"/>
<line x1="120.10" y1="247.20" x2="121.30" y2="247.20" stroke="#666" stroke-width="0.8"/>
<text x="119.10" y="249.70" font-size="7.0" font-weight="bold" text-anchor="end" fill="#111">60</text>
<line x1="120.10" y1="264.60" x2="121.30" y2="264.60" stroke="#666" stroke-width="0.8"/>
<text x="119.10" y="267.10" font-size="7.0" font-weight="bold" text-anchor="end" fill="#111">40</text>
<line x1="120.10" y1="282.10" x2="121.30" y2="282.10" stroke="#666" stroke-width="0.8"/>
<text x="119.10" y="284.60" font-size="7.0" font-weight="bold" text-anchor="end" fill="#111">20</text>
<line x1="120.10" y1="299.50" x2="121.30" y2="299.50" stroke="#666" stroke-width="0.8"/>
<text x="119.10" y="302.00" font-size="7.0" font-weight="bold" text-anchor="end" fill="#111">0</text>
<line x1="138.75" y1="288.70" x2="138.75" y2="282.00" stroke="#111" stroke-width="0.9"/>
<line x1="133.80" y1="282.00" x2="144.50" y2="282.00" stroke="#111" stroke-width="0.9"/>
<rect x="127.50" y="288.70" width="22.50" height="10.80" fill="#b4b4b4" stroke="#2a2a2a" stroke-width="1.0"/>
<line x1="172.30" y1="271.70" x2="172.30" y2="258.30" stroke="#111" stroke-width="0.9"/>
<line x1="166.30" y1="258.30" x2="178.00" y2="258.30" stroke="#111" stroke-width="0.9"/>
<rect x="161.30" y="271.70" width="22.00" height="27.80" fill="#404040" stroke="#2a2a2a" stroke-width="1.0"/>
<text x="154.10" y="240.60" font-size="9.9" font-weight="bold" text-anchor="middle" fill="#000" textLength="61.0" lengthAdjust="spacingAndGlyphs">CD83 HLADR</text>
<line x1="205.90" y1="246.80" x2="205.90" y2="299.90" stroke="#8a8a8a" stroke-width="1.0"/>
<line x1="205.90" y1="299.50" x2="272.50" y2="299.50" stroke="#7a7a7a" stroke-width="1.0"/>
<line x1="204.70" y1="247.20" x2="205.90" y2="247.20" stroke="#666" stroke-width="0.8"/>
<text x="203.70" y="249.70" font-size="7.0" font-weight="bold" text-anchor="end" fill="#111">30</text>
<line x1="204.70" y1="264.60" x2="205.90" y2="264.60" stroke="#666" stroke-width="0.8"/>
<text x="203.70" y="267.10" font-size="7.0" font-weight="bold" text-anchor="end" fill="#111">20</text>
<line x1="204.70" y1="282.10" x2="205.90" y2="282.10" stroke="#666" stroke-width="0.8"/>
<text x="203.70" y="284.60" font-size="7.0" font-weight="bold" text-anchor="end" fill="#111">10</text>
<line x1="204.70" y1="299.50" x2="205.90" y2="299.50" stroke="#666" stroke-width="0.8"/>
<text x="203.70" y="302.00" font-size="7.0" font-weight="bold" text-anchor="end" fill="#111">0</text>
<line x1="223.05" y1="281.20" x2="223.05" y2="278.20" stroke="#111" stroke-width="0.9"/>
<line x1="217.50" y1="278.20" x2="228.00" y2="278.20" stroke="#111" stroke-width="0.9"/>
<rect x="211.80" y="281.20" width="22.50" height="18.30" fill="#b4b4b4" stroke="#2a2a2a" stroke-width="1.0"/>
<line x1="256.40" y1="257.00" x2="256.40" y2="251.70" stroke="#111" stroke-width="0.9"/>
<line x1="251.20" y1="251.70" x2="262.50" y2="251.70" stroke="#111" stroke-width="0.9"/>
<rect x="245.00" y="257.00" width="22.80" height="42.50" fill="#404040" stroke="#2a2a2a" stroke-width="1.0"/>
<text x="236.30" y="240.60" font-size="9.9" font-weight="bold" text-anchor="middle" fill="#000" textLength="61.5" lengthAdjust="spacingAndGlyphs">CD86 HLADR</text>
<line x1="293.20" y1="246.80" x2="293.20" y2="299.90" stroke="#8a8a8a" stroke-width="1.0"/>
<line x1="293.20" y1="299.50" x2="358.50" y2="299.50" stroke="#7a7a7a" stroke-width="1.0"/>
<line x1="292.00" y1="247.40" x2="293.20" y2="247.40" stroke="#666" stroke-width="0.8"/>
<text x="291.00" y="249.90" font-size="7.0" font-weight="bold" text-anchor="end" fill="#111">125</text>
<line x1="292.00" y1="257.80" x2="293.20" y2="257.80" stroke="#666" stroke-width="0.8"/>
<text x="291.00" y="260.30" font-size="7.0" font-weight="bold" text-anchor="end" fill="#111">100</text>
<line x1="292.00" y1="268.30" x2="293.20" y2="268.30" stroke="#666" stroke-width="0.8"/>
<text x="291.00" y="270.80" font-size="7.0" font-weight="bold" text-anchor="end" fill="#111">75</text>
<line x1="292.00" y1="278.70" x2="293.20" y2="278.70" stroke="#666" stroke-width="0.8"/>
<text x="291.00" y="281.20" font-size="7.0" font-weight="bold" text-anchor="end" fill="#111">50</text>
<line x1="292.00" y1="289.10" x2="293.20" y2="289.10" stroke="#666" stroke-width="0.8"/>
<text x="291.00" y="291.60" font-size="7.0" font-weight="bold" text-anchor="end" fill="#111">25</text>
<line x1="292.00" y1="299.50" x2="293.20" y2="299.50" stroke="#666" stroke-width="0.8"/>
<text x="291.00" y="302.00" font-size="7.0" font-weight="bold" text-anchor="end" fill="#111">0</text>
<line x1="309.80" y1="266.20" x2="309.80" y2="265.50" stroke="#111" stroke-width="0.9"/>
<line x1="304.00" y1="265.50" x2="315.50" y2="265.50" stroke="#111" stroke-width="0.9"/>
<rect x="298.80" y="266.20" width="22.00" height="33.30" fill="#b4b4b4" stroke="#2a2a2a" stroke-width="1.0"/>
<line x1="341.90" y1="261.50" x2="341.90" y2="259.00" stroke="#111" stroke-width="0.9"/>
<line x1="336.30" y1="259.00" x2="347.50" y2="259.00" stroke="#111" stroke-width="0.9"/>
<rect x="331.30" y="261.50" width="21.20" height="38.00" fill="#404040" stroke="#2a2a2a" stroke-width="1.0"/>
<text x="324.70" y="240.60" font-size="9.9" font-weight="bold" text-anchor="middle" fill="#000" textLength="60.8" lengthAdjust="spacingAndGlyphs">CD40 HLADR</text>
<line x1="372.80" y1="246.80" x2="372.80" y2="299.90" stroke="#8a8a8a" stroke-width="1.0"/>
<line x1="372.80" y1="299.50" x2="437.50" y2="299.50" stroke="#7a7a7a" stroke-width="1.0"/>
<line x1="371.60" y1="247.20" x2="372.80" y2="247.20" stroke="#666" stroke-width="0.8"/>
<text x="370.60" y="249.70" font-size="7.0" font-weight="bold" text-anchor="end" fill="#111">100</text>
<line x1="371.60" y1="257.70" x2="372.80" y2="257.70" stroke="#666" stroke-width="0.8"/>
<text x="370.60" y="260.20" font-size="7.0" font-weight="bold" text-anchor="end" fill="#111">80</text>
<line x1="371.60" y1="268.10" x2="372.80" y2="268.10" stroke="#666" stroke-width="0.8"/>
<text x="370.60" y="270.60" font-size="7.0" font-weight="bold" text-anchor="end" fill="#111">60</text>
<line x1="371.60" y1="278.60" x2="372.80" y2="278.60" stroke="#666" stroke-width="0.8"/>
<text x="370.60" y="281.10" font-size="7.0" font-weight="bold" text-anchor="end" fill="#111">40</text>
<line x1="371.60" y1="289.00" x2="372.80" y2="289.00" stroke="#666" stroke-width="0.8"/>
<text x="370.60" y="291.50" font-size="7.0" font-weight="bold" text-anchor="end" fill="#111">20</text>
<line x1="371.60" y1="299.50" x2="372.80" y2="299.50" stroke="#666" stroke-width="0.8"/>
<text x="370.60" y="302.00" font-size="7.0" font-weight="bold" text-anchor="end" fill="#111">0</text>
<line x1="390.05" y1="260.80" x2="390.05" y2="259.20" stroke="#111" stroke-width="0.9"/>
<line x1="383.80" y1="259.20" x2="395.00" y2="259.20" stroke="#111" stroke-width="0.9"/>
<rect x="378.80" y="260.80" width="22.50" height="38.70" fill="#b4b4b4" stroke="#2a2a2a" stroke-width="1.0"/>
<line x1="423.50" y1="285.70" x2="423.50" y2="282.50" stroke="#111" stroke-width="0.9"/>
<line x1="417.50" y1="282.50" x2="429.30" y2="282.50" stroke="#111" stroke-width="0.9"/>
<rect x="412.50" y="285.70" width="22.00" height="13.80" fill="#404040" stroke="#2a2a2a" stroke-width="1.0"/>
<text x="423.00" y="284.00" font-size="15" font-weight="bold" text-anchor="middle" fill="#000">*</text>
<text x="405.60" y="240.60" font-size="9.9" font-weight="bold" text-anchor="middle" fill="#000" textLength="24.0" lengthAdjust="spacingAndGlyphs">CD14</text>
<line x1="454.60" y1="246.80" x2="454.60" y2="299.90" stroke="#8a8a8a" stroke-width="1.0"/>
<line x1="454.60" y1="299.50" x2="519.00" y2="299.50" stroke="#7a7a7a" stroke-width="1.0"/>
<line x1="453.40" y1="247.20" x2="454.60" y2="247.20" stroke="#666" stroke-width="0.8"/>
<text x="452.40" y="249.70" font-size="7.0" font-weight="bold" text-anchor="end" fill="#111">100</text>
<line x1="453.40" y1="257.70" x2="454.60" y2="257.70" stroke="#666" stroke-width="0.8"/>
<text x="452.40" y="260.20" font-size="7.0" font-weight="bold" text-anchor="end" fill="#111">80</text>
<line x1="453.40" y1="268.10" x2="454.60" y2="268.10" stroke="#666" stroke-width="0.8"/>
<text x="452.40" y="270.60" font-size="7.0" font-weight="bold" text-anchor="end" fill="#111">60</text>
<line x1="453.40" y1="278.60" x2="454.60" y2="278.60" stroke="#666" stroke-width="0.8"/>
<text x="452.40" y="281.10" font-size="7.0" font-weight="bold" text-anchor="end" fill="#111">40</text>
<line x1="453.40" y1="289.00" x2="454.60" y2="289.00" stroke="#666" stroke-width="0.8"/>
<text x="452.40" y="291.50" font-size="7.0" font-weight="bold" text-anchor="end" fill="#111">20</text>
<line x1="453.40" y1="299.50" x2="454.60" y2="299.50" stroke="#666" stroke-width="0.8"/>
<text x="452.40" y="302.00" font-size="7.0" font-weight="bold" text-anchor="end" fill="#111">0</text>
<line x1="471.00" y1="254.50" x2="471.00" y2="252.00" stroke="#111" stroke-width="0.9"/>
<line x1="465.00" y1="252.00" x2="476.30" y2="252.00" stroke="#111" stroke-width="0.9"/>
<rect x="460.00" y="254.50" width="22.00" height="45.00" fill="#b4b4b4" stroke="#2a2a2a" stroke-width="1.0"/>
<line x1="503.75" y1="263.80" x2="503.75" y2="261.30" stroke="#111" stroke-width="0.9"/>
<line x1="497.50" y1="261.30" x2="508.80" y2="261.30" stroke="#111" stroke-width="0.9"/>
<rect x="493.00" y="263.80" width="21.50" height="35.70" fill="#404040" stroke="#2a2a2a" stroke-width="1.0"/>
<text x="483.80" y="240.60" font-size="9.9" font-weight="bold" text-anchor="middle" fill="#000" textLength="26.8" lengthAdjust="spacingAndGlyphs">PD-L1</text>
<line x1="36.50" y1="318.00" x2="36.50" y2="370.40" stroke="#8a8a8a" stroke-width="1.0"/>
<line x1="36.50" y1="370.00" x2="103.50" y2="370.00" stroke="#7a7a7a" stroke-width="1.0"/>
<line x1="35.30" y1="318.00" x2="36.50" y2="318.00" stroke="#666" stroke-width="0.8"/>
<text x="34.30" y="320.50" font-size="7.0" font-weight="bold" text-anchor="end" fill="#111">30</text>
<line x1="35.30" y1="335.30" x2="36.50" y2="335.30" stroke="#666" stroke-width="0.8"/>
<text x="34.30" y="337.80" font-size="7.0" font-weight="bold" text-anchor="end" fill="#111">20</text>
<line x1="35.30" y1="352.70" x2="36.50" y2="352.70" stroke="#666" stroke-width="0.8"/>
<text x="34.30" y="355.20" font-size="7.0" font-weight="bold" text-anchor="end" fill="#111">10</text>
<line x1="35.30" y1="370.00" x2="36.50" y2="370.00" stroke="#666" stroke-width="0.8"/>
<text x="34.30" y="372.50" font-size="7.0" font-weight="bold" text-anchor="end" fill="#111">0</text>
<line x1="53.50" y1="355.50" x2="53.50" y2="353.80" stroke="#111" stroke-width="0.9"/>
<line x1="47.50" y1="353.80" x2="59.30" y2="353.80" stroke="#111" stroke-width="0.9"/>
<rect x="42.00" y="355.50" width="23.00" height="14.50" fill="#b4b4b4" stroke="#2a2a2a" stroke-width="1.0"/>
<line x1="86.90" y1="328.80" x2="86.90" y2="325.50" stroke="#111" stroke-width="0.9"/>
<line x1="81.30" y1="325.50" x2="93.00" y2="325.50" stroke="#111" stroke-width="0.9"/>
<rect x="75.50" y="328.80" width="22.80" height="41.20" fill="#404040" stroke="#2a2a2a" stroke-width="1.0"/>
<text x="87.60" y="327.50" font-size="15" font-weight="bold" text-anchor="middle" fill="#000">*</text>
<line x1="122.30" y1="314.80" x2="122.30" y2="367.90" stroke="#8a8a8a" stroke-width="1.0"/>
<line x1="122.30" y1="367.50" x2="188.80" y2="367.50" stroke="#7a7a7a" stroke-width="1.0"/>
<line x1="121.10" y1="315.50" x2="122.30" y2="315.50" stroke="#666" stroke-width="0.8"/>
<text x="120.10" y="318.00" font-size="7.0" font-weight="bold" text-anchor="end" fill="#111">15</text>
<line x1="121.10" y1="332.80" x2="122.30" y2="332.80" stroke="#666" stroke-width="0.8"/>
<text x="120.10" y="335.30" font-size="7.0" font-weight="bold" text-anchor="end" fill="#111">10</text>
<line x1="121.10" y1="350.20" x2="122.30" y2="350.20" stroke="#666" stroke-width="0.8"/>
<text x="120.10" y="352.70" font-size="7.0" font-weight="bold" text-anchor="end" fill="#111">5</text>
<line x1="121.10" y1="367.50" x2="122.30" y2="367.50" stroke="#666" stroke-width="0.8"/>
<text x="120.10" y="370.00" font-size="7.0" font-weight="bold" text-anchor="end" fill="#111">0</text>
<line x1="139.40" y1="355.50" x2="139.40" y2="355.00" stroke="#111" stroke-width="0.9"/>
<line x1="132.00" y1="355.00" x2="146.00" y2="355.00" stroke="#111" stroke-width="0.9"/>
<rect x="128.00" y="355.50" width="22.80" height="12.00" fill="#b4b4b4" stroke="#2a2a2a" stroke-width="1.0"/>
<line x1="172.80" y1="322.50" x2="172.80" y2="319.30" stroke="#111" stroke-width="0.9"/>
<line x1="166.80" y1="319.30" x2="178.80" y2="319.30" stroke="#111" stroke-width="0.9"/>
<rect x="161.80" y="322.50" width="22.00" height="45.00" fill="#404040" stroke="#2a2a2a" stroke-width="1.0"/>
<text x="172.60" y="321.50" font-size="15" font-weight="bold" text-anchor="middle" fill="#000" letter-spacing="1.2">**</text>
<line x1="206.30" y1="315.50" x2="206.30" y2="367.90" stroke="#8a8a8a" stroke-width="1.0"/>
<line x1="206.30" y1="367.50" x2="272.50" y2="367.50" stroke="#7a7a7a" stroke-width="1.0"/>
<line x1="205.10" y1="315.50" x2="206.30" y2="315.50" stroke="#666" stroke-width="0.8"/>
<text x="204.10" y="318.00" font-size="7.0" font-weight="bold" text-anchor="end" fill="#111">50</text>
<line x1="205.10" y1="325.90" x2="206.30" y2="325.90" stroke="#666" stroke-width="0.8"/>
<text x="204.10" y="328.40" font-size="7.0" font-weight="bold" text-anchor="end" fill="#111">40</text>
<line x1="205.10" y1="336.30" x2="206.30" y2="336.30" stroke="#666" stroke-width="0.8"/>
<text x="204.10" y="338.80" font-size="7.0" font-weight="bold" text-anchor="end" fill="#111">30</text>
<line x1="205.10" y1="346.70" x2="206.30" y2="346.70" stroke="#666" stroke-width="0.8"/>
<text x="204.10" y="349.20" font-size="7.0" font-weight="bold" text-anchor="end" fill="#111">20</text>
<line x1="205.10" y1="357.10" x2="206.30" y2="357.10" stroke="#666" stroke-width="0.8"/>
<text x="204.10" y="359.60" font-size="7.0" font-weight="bold" text-anchor="end" fill="#111">10</text>
<line x1="205.10" y1="367.50" x2="206.30" y2="367.50" stroke="#666" stroke-width="0.8"/>
<text x="204.10" y="370.00" font-size="7.0" font-weight="bold" text-anchor="end" fill="#111">0</text>
<line x1="223.05" y1="359.50" x2="223.05" y2="358.30" stroke="#111" stroke-width="0.9"/>
<line x1="217.50" y1="358.30" x2="228.00" y2="358.30" stroke="#111" stroke-width="0.9"/>
<rect x="211.80" y="359.50" width="22.50" height="8.00" fill="#b4b4b4" stroke="#2a2a2a" stroke-width="1.0"/>
<line x1="256.50" y1="328.30" x2="256.50" y2="321.80" stroke="#111" stroke-width="0.9"/>
<line x1="250.80" y1="321.80" x2="262.50" y2="321.80" stroke="#111" stroke-width="0.9"/>
<rect x="245.00" y="328.30" width="23.00" height="39.20" fill="#404040" stroke="#2a2a2a" stroke-width="1.0"/>
<text x="257.10" y="325.10" font-size="15" font-weight="bold" text-anchor="middle" fill="#000">*</text>
<line x1="293.30" y1="315.50" x2="293.30" y2="367.90" stroke="#8a8a8a" stroke-width="1.0"/>
<line x1="293.30" y1="367.50" x2="358.80" y2="367.50" stroke="#7a7a7a" stroke-width="1.0"/>
<line x1="292.10" y1="315.50" x2="293.30" y2="315.50" stroke="#666" stroke-width="0.8"/>
<text x="291.10" y="318.00" font-size="7.0" font-weight="bold" text-anchor="end" fill="#111">100</text>
<line x1="292.10" y1="325.90" x2="293.30" y2="325.90" stroke="#666" stroke-width="0.8"/>
<text x="291.10" y="328.40" font-size="7.0" font-weight="bold" text-anchor="end" fill="#111">80</text>
<line x1="292.10" y1="336.30" x2="293.30" y2="336.30" stroke="#666" stroke-width="0.8"/>
<text x="291.10" y="338.80" font-size="7.0" font-weight="bold" text-anchor="end" fill="#111">60</text>
<line x1="292.10" y1="346.70" x2="293.30" y2="346.70" stroke="#666" stroke-width="0.8"/>
<text x="291.10" y="349.20" font-size="7.0" font-weight="bold" text-anchor="end" fill="#111">40</text>
<line x1="292.10" y1="357.10" x2="293.30" y2="357.10" stroke="#666" stroke-width="0.8"/>
<text x="291.10" y="359.60" font-size="7.0" font-weight="bold" text-anchor="end" fill="#111">20</text>
<line x1="292.10" y1="367.50" x2="293.30" y2="367.50" stroke="#666" stroke-width="0.8"/>
<text x="291.10" y="370.00" font-size="7.0" font-weight="bold" text-anchor="end" fill="#111">0</text>
<line x1="309.80" y1="332.50" x2="309.80" y2="328.80" stroke="#111" stroke-width="0.9"/>
<line x1="304.30" y1="328.80" x2="315.00" y2="328.80" stroke="#111" stroke-width="0.9"/>
<rect x="298.80" y="332.50" width="22.00" height="35.00" fill="#b4b4b4" stroke="#2a2a2a" stroke-width="1.0"/>
<line x1="341.90" y1="322.50" x2="341.90" y2="320.50" stroke="#111" stroke-width="0.9"/>
<line x1="336.30" y1="320.50" x2="347.50" y2="320.50" stroke="#111" stroke-width="0.9"/>
<rect x="331.30" y="322.50" width="21.20" height="45.00" fill="#404040" stroke="#2a2a2a" stroke-width="1.0"/>
<line x1="374.20" y1="315.20" x2="374.20" y2="369.20" stroke="#8a8a8a" stroke-width="1.0"/>
<line x1="374.20" y1="368.80" x2="437.50" y2="368.80" stroke="#7a7a7a" stroke-width="1.0"/>
<line x1="373.00" y1="316.30" x2="374.20" y2="316.30" stroke="#666" stroke-width="0.8"/>
<text x="372.00" y="318.80" font-size="7.0" font-weight="bold" text-anchor="end" fill="#111">200</text>
<line x1="373.00" y1="329.40" x2="374.20" y2="329.40" stroke="#666" stroke-width="0.8"/>
<text x="372.00" y="331.90" font-size="7.0" font-weight="bold" text-anchor="end" fill="#111">150</text>
<line x1="373.00" y1="342.60" x2="374.20" y2="342.60" stroke="#666" stroke-width="0.8"/>
<text x="372.00" y="345.10" font-size="7.0" font-weight="bold" text-anchor="end" fill="#111">100</text>
<line x1="373.00" y1="355.70" x2="374.20" y2="355.70" stroke="#666" stroke-width="0.8"/>
<text x="372.00" y="358.20" font-size="7.0" font-weight="bold" text-anchor="end" fill="#111">50</text>
<line x1="373.00" y1="368.80" x2="374.20" y2="368.80" stroke="#666" stroke-width="0.8"/>
<text x="372.00" y="371.30" font-size="7.0" font-weight="bold" text-anchor="end" fill="#111">0</text>
<line x1="390.65" y1="330.00" x2="390.65" y2="325.80" stroke="#111" stroke-width="0.9"/>
<line x1="385.00" y1="325.80" x2="395.80" y2="325.80" stroke="#111" stroke-width="0.9"/>
<rect x="379.50" y="330.00" width="22.30" height="38.80" fill="#b4b4b4" stroke="#2a2a2a" stroke-width="1.0"/>
<line x1="423.00" y1="357.30" x2="423.00" y2="355.50" stroke="#111" stroke-width="0.9"/>
<line x1="417.50" y1="355.50" x2="428.00" y2="355.50" stroke="#111" stroke-width="0.9"/>
<rect x="412.00" y="357.30" width="22.00" height="11.50" fill="#404040" stroke="#2a2a2a" stroke-width="1.0"/>
<text x="423.00" y="358.40" font-size="15" font-weight="bold" text-anchor="middle" fill="#000">*</text>
<line x1="454.50" y1="316.30" x2="454.50" y2="369.20" stroke="#8a8a8a" stroke-width="1.0"/>
<line x1="454.50" y1="368.80" x2="519.00" y2="368.80" stroke="#7a7a7a" stroke-width="1.0"/>
<line x1="453.30" y1="316.30" x2="454.50" y2="316.30" stroke="#666" stroke-width="0.8"/>
<text x="452.30" y="318.80" font-size="7.0" font-weight="bold" text-anchor="end" fill="#111">300</text>
<line x1="453.30" y1="333.80" x2="454.50" y2="333.80" stroke="#666" stroke-width="0.8"/>
<text x="452.30" y="336.30" font-size="7.0" font-weight="bold" text-anchor="end" fill="#111">200</text>
<line x1="453.30" y1="351.30" x2="454.50" y2="351.30" stroke="#666" stroke-width="0.8"/>
<text x="452.30" y="353.80" font-size="7.0" font-weight="bold" text-anchor="end" fill="#111">100</text>
<line x1="453.30" y1="368.80" x2="454.50" y2="368.80" stroke="#666" stroke-width="0.8"/>
<text x="452.30" y="371.30" font-size="7.0" font-weight="bold" text-anchor="end" fill="#111">0</text>
<line x1="471.00" y1="328.30" x2="471.00" y2="325.50" stroke="#111" stroke-width="0.9"/>
<line x1="465.00" y1="325.50" x2="476.30" y2="325.50" stroke="#111" stroke-width="0.9"/>
<rect x="460.00" y="328.30" width="22.00" height="40.50" fill="#b4b4b4" stroke="#2a2a2a" stroke-width="1.0"/>
<line x1="503.50" y1="352.00" x2="503.50" y2="350.00" stroke="#111" stroke-width="0.9"/>
<line x1="497.50" y1="350.00" x2="508.80" y2="350.00" stroke="#111" stroke-width="0.9"/>
<rect x="492.50" y="352.00" width="22.00" height="16.80" fill="#404040" stroke="#2a2a2a" stroke-width="1.0"/>
<text x="503.20" y="352.40" font-size="15" font-weight="bold" text-anchor="middle" fill="#000">*</text>
<rect x="186.10" y="387.80" width="15.30" height="5.10" fill="#f4f4f4" stroke="#111" stroke-width="1.8"/>
<text x="208.30" y="393.20" font-size="9.0" font-weight="bold" text-anchor="start" fill="#000">MDSC</text>
<rect x="250.10" y="388.00" width="15.50" height="4.90" fill="#444" stroke="#111" stroke-width="1.8"/>
<text x="272.60" y="393.30" font-size="9.0" font-weight="bold" text-anchor="start" fill="#000">MDSC+4-IPP</text>
</svg>
</body></html>
